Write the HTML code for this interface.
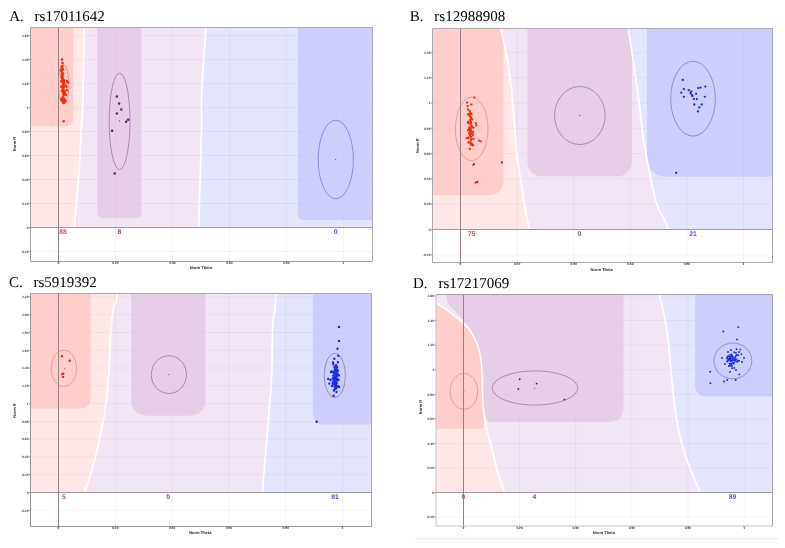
<!DOCTYPE html>
<html><head><meta charset="utf-8"><title>Cluster plots</title>
<style>
html,body{margin:0;padding:0;background:#fff;}
body{width:785px;height:548px;overflow:hidden;}
svg{display:block;}
text{text-rendering:geometricPrecision;}
.ttl{font-family:"Liberation Serif",serif;font-size:15px;fill:#000;}
.tk{font-family:"Liberation Sans",sans-serif;font-size:3.3px;fill:#333;font-weight:bold;}
.ax{font-family:"Liberation Sans",sans-serif;font-size:4.0px;fill:#222;font-weight:bold;}
.cnt{font-family:"Liberation Sans",sans-serif;font-size:6.8px;font-weight:bold;}
.wb{fill:none;stroke:#fff;stroke-width:1.7;stroke-opacity:0.95;}
.grid{fill:none;stroke:#000;stroke-opacity:0.035;stroke-width:0.8;}
.grid2{fill:none;stroke:#000;stroke-opacity:0.025;stroke-width:0.8;}
.zero{stroke:#a09898;stroke-width:1;}
.x0{stroke:#928083;stroke-width:1;}
.frame{fill:none;stroke:#929292;stroke-width:1.1;}
.tick{fill:none;stroke:#666;stroke-width:0.6;}
</style></head>
<body>
<svg width="785" height="548" viewBox="0 0 785 548">
<rect width="785" height="548" fill="#fff"/>
<text x="9.2" y="21.1" class="ttl">A.</text>
<text x="34.6" y="21.1" class="ttl">rs17011642</text>
<clipPath id="pkA"><polygon points="30.5,27.5 84.2,27.5 84.2,27.5 84.2,28.5 84.2,29.6 84.2,30.8 84.1,32.4 84.1,34.2 84.1,36.4 84.1,39.0 84.0,42.0 83.9,45.7 83.9,50.0 83.8,54.9 83.7,60.0 83.6,65.3 83.5,70.5 83.4,75.5 83.3,80.0 83.2,84.2 83.1,88.4 83.1,92.5 83.0,96.4 82.9,100.2 82.8,103.7 82.7,107.0 82.6,110.0 82.5,112.5 82.4,114.5 82.2,116.1 82.1,117.6 82.0,119.0 81.8,120.6 81.7,122.6 81.5,125.0 81.3,127.9 81.2,131.2 81.0,134.8 80.8,138.5 80.7,142.3 80.5,146.2 80.3,150.0 80.1,153.7 79.9,157.3 79.7,161.0 79.4,164.7 79.2,168.5 78.9,172.1 78.7,175.7 78.4,179.2 78.2,182.5 78.0,185.7 77.7,188.7 77.5,191.6 77.2,194.4 77.0,197.2 76.8,200.0 76.5,202.7 76.3,205.5 76.0,208.4 75.8,211.6 75.5,214.8 75.2,217.9 75.0,220.9 74.7,223.6 74.5,225.8 74.4,227.5 74.4,227.5 30.5,227.5"/></clipPath>
<clipPath id="puA"><polygon points="84.2,27.5 205.9,27.5 205.9,27.5 205.8,28.6 205.7,29.9 205.6,31.6 205.5,33.4 205.4,35.4 205.2,37.6 205.1,39.9 204.9,42.2 204.7,44.6 204.6,47.1 204.4,49.8 204.2,52.6 204.0,55.5 203.8,58.6 203.6,61.8 203.4,65.2 203.2,68.8 202.9,72.7 202.6,76.7 202.4,80.9 202.1,85.2 201.9,89.5 201.6,93.7 201.5,97.8 201.4,101.6 201.4,105.0 201.4,108.2 201.5,111.6 201.6,115.2 201.6,119.3 201.6,124.2 201.5,130.0 201.3,137.2 201.1,145.8 200.8,155.3 200.5,165.3 200.2,175.2 199.9,184.6 199.7,193.0 199.5,200.0 199.4,205.7 199.3,210.5 199.2,214.6 199.1,218.1 199.1,221.1 199.1,223.6 199.0,225.7 199.0,227.5 199.0,227.5 74.4,227.5 74.4,227.5 74.5,225.8 74.7,223.6 75.0,220.9 75.2,217.9 75.5,214.8 75.8,211.6 76.0,208.4 76.3,205.5 76.5,202.7 76.8,200.0 77.0,197.2 77.2,194.4 77.5,191.6 77.7,188.7 78.0,185.7 78.2,182.5 78.4,179.2 78.7,175.7 78.9,172.1 79.2,168.5 79.4,164.7 79.7,161.0 79.9,157.3 80.1,153.7 80.3,150.0 80.5,146.2 80.7,142.3 80.8,138.5 81.0,134.8 81.2,131.2 81.3,127.9 81.5,125.0 81.7,122.6 81.8,120.6 82.0,119.0 82.1,117.6 82.2,116.1 82.4,114.5 82.5,112.5 82.6,110.0 82.7,107.0 82.8,103.7 82.9,100.2 83.0,96.4 83.1,92.5 83.1,88.4 83.2,84.2 83.3,80.0 83.4,75.5 83.5,70.5 83.6,65.3 83.7,60.0 83.8,54.9 83.9,50.0 83.9,45.7 84.0,42.0 84.1,39.0 84.1,36.4 84.1,34.2 84.1,32.4 84.2,30.8 84.2,29.6 84.2,28.5 84.2,27.5"/></clipPath>
<clipPath id="blA"><polygon points="205.9,27.5 372.5,27.5 372.5,227.5 199.0,227.5 199.0,227.5 199.0,225.7 199.1,223.6 199.1,221.1 199.1,218.1 199.2,214.6 199.3,210.5 199.4,205.7 199.5,200.0 199.7,193.0 199.9,184.6 200.2,175.2 200.5,165.3 200.8,155.3 201.1,145.8 201.3,137.2 201.5,130.0 201.6,124.2 201.6,119.3 201.6,115.2 201.5,111.6 201.4,108.2 201.4,105.0 201.4,101.6 201.5,97.8 201.6,93.7 201.9,89.5 202.1,85.2 202.4,80.9 202.6,76.7 202.9,72.7 203.2,68.8 203.4,65.2 203.6,61.8 203.8,58.6 204.0,55.5 204.2,52.6 204.4,49.8 204.6,47.1 204.7,44.6 204.9,42.2 205.1,39.9 205.2,37.6 205.4,35.4 205.5,33.4 205.6,31.6 205.7,29.9 205.8,28.6 205.9,27.5"/></clipPath>
<polygon points="30.5,27.5 84.2,27.5 84.2,27.5 84.2,28.5 84.2,29.6 84.2,30.8 84.1,32.4 84.1,34.2 84.1,36.4 84.1,39.0 84.0,42.0 83.9,45.7 83.9,50.0 83.8,54.9 83.7,60.0 83.6,65.3 83.5,70.5 83.4,75.5 83.3,80.0 83.2,84.2 83.1,88.4 83.1,92.5 83.0,96.4 82.9,100.2 82.8,103.7 82.7,107.0 82.6,110.0 82.5,112.5 82.4,114.5 82.2,116.1 82.1,117.6 82.0,119.0 81.8,120.6 81.7,122.6 81.5,125.0 81.3,127.9 81.2,131.2 81.0,134.8 80.8,138.5 80.7,142.3 80.5,146.2 80.3,150.0 80.1,153.7 79.9,157.3 79.7,161.0 79.4,164.7 79.2,168.5 78.9,172.1 78.7,175.7 78.4,179.2 78.2,182.5 78.0,185.7 77.7,188.7 77.5,191.6 77.2,194.4 77.0,197.2 76.8,200.0 76.5,202.7 76.3,205.5 76.0,208.4 75.8,211.6 75.5,214.8 75.2,217.9 75.0,220.9 74.7,223.6 74.5,225.8 74.4,227.5 74.4,227.5 30.5,227.5" fill="#fee7e6"/>
<polygon points="84.2,27.5 205.9,27.5 205.9,27.5 205.8,28.6 205.7,29.9 205.6,31.6 205.5,33.4 205.4,35.4 205.2,37.6 205.1,39.9 204.9,42.2 204.7,44.6 204.6,47.1 204.4,49.8 204.2,52.6 204.0,55.5 203.8,58.6 203.6,61.8 203.4,65.2 203.2,68.8 202.9,72.7 202.6,76.7 202.4,80.9 202.1,85.2 201.9,89.5 201.6,93.7 201.5,97.8 201.4,101.6 201.4,105.0 201.4,108.2 201.5,111.6 201.6,115.2 201.6,119.3 201.6,124.2 201.5,130.0 201.3,137.2 201.1,145.8 200.8,155.3 200.5,165.3 200.2,175.2 199.9,184.6 199.7,193.0 199.5,200.0 199.4,205.7 199.3,210.5 199.2,214.6 199.1,218.1 199.1,221.1 199.1,223.6 199.0,225.7 199.0,227.5 199.0,227.5 74.4,227.5 74.4,227.5 74.5,225.8 74.7,223.6 75.0,220.9 75.2,217.9 75.5,214.8 75.8,211.6 76.0,208.4 76.3,205.5 76.5,202.7 76.8,200.0 77.0,197.2 77.2,194.4 77.5,191.6 77.7,188.7 78.0,185.7 78.2,182.5 78.4,179.2 78.7,175.7 78.9,172.1 79.2,168.5 79.4,164.7 79.7,161.0 79.9,157.3 80.1,153.7 80.3,150.0 80.5,146.2 80.7,142.3 80.8,138.5 81.0,134.8 81.2,131.2 81.3,127.9 81.5,125.0 81.7,122.6 81.8,120.6 82.0,119.0 82.1,117.6 82.2,116.1 82.4,114.5 82.5,112.5 82.6,110.0 82.7,107.0 82.8,103.7 82.9,100.2 83.0,96.4 83.1,92.5 83.1,88.4 83.2,84.2 83.3,80.0 83.4,75.5 83.5,70.5 83.6,65.3 83.7,60.0 83.8,54.9 83.9,50.0 83.9,45.7 84.0,42.0 84.1,39.0 84.1,36.4 84.1,34.2 84.1,32.4 84.2,30.8 84.2,29.6 84.2,28.5 84.2,27.5" fill="#f2e6f6"/>
<polygon points="205.9,27.5 372.5,27.5 372.5,227.5 199.0,227.5 199.0,227.5 199.0,225.7 199.1,223.6 199.1,221.1 199.1,218.1 199.2,214.6 199.3,210.5 199.4,205.7 199.5,200.0 199.7,193.0 199.9,184.6 200.2,175.2 200.5,165.3 200.8,155.3 201.1,145.8 201.3,137.2 201.5,130.0 201.6,124.2 201.6,119.3 201.6,115.2 201.5,111.6 201.4,108.2 201.4,105.0 201.4,101.6 201.5,97.8 201.6,93.7 201.9,89.5 202.1,85.2 202.4,80.9 202.6,76.7 202.9,72.7 203.2,68.8 203.4,65.2 203.6,61.8 203.8,58.6 204.0,55.5 204.2,52.6 204.4,49.8 204.6,47.1 204.7,44.6 204.9,42.2 205.1,39.9 205.2,37.6 205.4,35.4 205.5,33.4 205.6,31.6 205.7,29.9 205.8,28.6 205.9,27.5" fill="#e4e5fe"/>
<path d="M30.5 251.5H372.5M30.5 203.5H372.5M30.5 179.5H372.5M30.5 155.5H372.5M30.5 131.5H372.5M30.5 107.4H372.5M30.5 83.4H372.5M30.5 59.4H372.5M30.5 35.4H372.5M115.5 27.5V261.5M172.4 27.5V261.5M229.4 27.5V261.5M286.3 27.5V261.5M343.3 27.5V261.5" class="grid"/>
<g clip-path="url(#pkA)"><rect x="0" y="0" width="73.3" height="126.3" rx="7" fill="#ffcecb"/></g>
<g clip-path="url(#puA)"><rect x="97.2" y="0" width="44.3" height="218.3" rx="6" fill="#e6cfe6"/></g>
<g clip-path="url(#blA)"><rect x="297.9" y="0" width="102.1" height="220.2" rx="5" fill="#cecefd"/></g>
<path d="M30.5 251.5H372.5M30.5 203.5H372.5M30.5 179.5H372.5M30.5 155.5H372.5M30.5 131.5H372.5M30.5 107.4H372.5M30.5 83.4H372.5M30.5 59.4H372.5M30.5 35.4H372.5M115.5 27.5V261.5M172.4 27.5V261.5M229.4 27.5V261.5M286.3 27.5V261.5M343.3 27.5V261.5" class="grid2"/>
<polyline points="84.2,27.5 84.2,28.5 84.2,29.6 84.2,30.8 84.1,32.4 84.1,34.2 84.1,36.4 84.1,39.0 84.0,42.0 83.9,45.7 83.9,50.0 83.8,54.9 83.7,60.0 83.6,65.3 83.5,70.5 83.4,75.5 83.3,80.0 83.2,84.2 83.1,88.4 83.1,92.5 83.0,96.4 82.9,100.2 82.8,103.7 82.7,107.0 82.6,110.0 82.5,112.5 82.4,114.5 82.2,116.1 82.1,117.6 82.0,119.0 81.8,120.6 81.7,122.6 81.5,125.0 81.3,127.9 81.2,131.2 81.0,134.8 80.8,138.5 80.7,142.3 80.5,146.2 80.3,150.0 80.1,153.7 79.9,157.3 79.7,161.0 79.4,164.7 79.2,168.5 78.9,172.1 78.7,175.7 78.4,179.2 78.2,182.5 78.0,185.7 77.7,188.7 77.5,191.6 77.2,194.4 77.0,197.2 76.8,200.0 76.5,202.7 76.3,205.5 76.0,208.4 75.8,211.6 75.5,214.8 75.2,217.9 75.0,220.9 74.7,223.6 74.5,225.8 74.4,227.5" class="wb"/>
<polyline points="205.9,27.5 205.8,28.6 205.7,29.9 205.6,31.6 205.5,33.4 205.4,35.4 205.2,37.6 205.1,39.9 204.9,42.2 204.7,44.6 204.6,47.1 204.4,49.8 204.2,52.6 204.0,55.5 203.8,58.6 203.6,61.8 203.4,65.2 203.2,68.8 202.9,72.7 202.6,76.7 202.4,80.9 202.1,85.2 201.9,89.5 201.6,93.7 201.5,97.8 201.4,101.6 201.4,105.0 201.4,108.2 201.5,111.6 201.6,115.2 201.6,119.3 201.6,124.2 201.5,130.0 201.3,137.2 201.1,145.8 200.8,155.3 200.5,165.3 200.2,175.2 199.9,184.6 199.7,193.0 199.5,200.0 199.4,205.7 199.3,210.5 199.2,214.6 199.1,218.1 199.1,221.1 199.1,223.6 199.0,225.7 199.0,227.5" class="wb"/>
<path d="M30.5 227.5H372.5" class="zero"/>
<path d="M58.5 27.5V261.5" class="x0"/>
<path d="M30.5 27.5H372.5V261.5" fill="none" stroke="#adaab2" stroke-width="1"/>
<path d="M30.5 27.5V261.5H372.5" fill="none" stroke="#a0a0a0" stroke-width="1"/>
<text x="28.5" y="252.7" class="tk" text-anchor="end">-0.20</text>
<text x="28.5" y="228.7" class="tk" text-anchor="end">0</text>
<text x="28.5" y="204.7" class="tk" text-anchor="end">0.20</text>
<text x="28.5" y="180.7" class="tk" text-anchor="end">0.40</text>
<text x="28.5" y="156.7" class="tk" text-anchor="end">0.60</text>
<text x="28.5" y="132.7" class="tk" text-anchor="end">0.80</text>
<text x="28.5" y="108.6" class="tk" text-anchor="end">1</text>
<text x="28.5" y="84.6" class="tk" text-anchor="end">1.20</text>
<text x="28.5" y="60.6" class="tk" text-anchor="end">1.40</text>
<text x="28.5" y="36.6" class="tk" text-anchor="end">1.60</text>
<text x="58.5" y="264.4" class="tk" text-anchor="middle">0</text>
<text x="115.5" y="264.4" class="tk" text-anchor="middle">0.20</text>
<text x="172.4" y="264.4" class="tk" text-anchor="middle">0.40</text>
<text x="229.4" y="264.4" class="tk" text-anchor="middle">0.60</text>
<text x="286.3" y="264.4" class="tk" text-anchor="middle">0.80</text>
<text x="343.3" y="264.4" class="tk" text-anchor="middle">1</text>
<path d="M29.0 251.5H30.5M29.0 227.5H30.5M29.0 203.5H30.5M29.0 179.5H30.5M29.0 155.5H30.5M29.0 131.5H30.5M29.0 107.4H30.5M29.0 83.4H30.5M29.0 59.4H30.5M29.0 35.4H30.5M58.5 261.5V263.0M115.5 261.5V263.0M172.4 261.5V263.0M229.4 261.5V263.0M286.3 261.5V263.0M343.3 261.5V263.0" class="tick"/>
<text x="200.8" y="269.2" class="ax" text-anchor="middle">Norm Theta</text>
<text transform="translate(16.3,144) rotate(-90)" class="ax" text-anchor="middle">Norm R</text>
<ellipse cx="63.6" cy="84.4" rx="5.3" ry="19.8" fill="none" stroke="#d47c7c" stroke-width="0.6"/>
<ellipse cx="119.6" cy="121.3" rx="10.4" ry="48.2" fill="none" stroke="#904e92" stroke-width="0.6"/>
<ellipse cx="335.8" cy="159.5" rx="17.6" ry="39.3" fill="none" stroke="#5c5cd0" stroke-width="0.6"/>
<path d="M60.75 59.50a1.25 1.25 0 1 0 2.5 0a1.25 1.25 0 1 0 -2.5 0M61.25 63.00a1.25 1.25 0 1 0 2.5 0a1.25 1.25 0 1 0 -2.5 0M62.45 121.20a1.25 1.25 0 1 0 2.5 0a1.25 1.25 0 1 0 -2.5 0" fill="#d42032"/>
<path d="M60.36 74.75a1.25 1.25 0 1 0 2.5 0a1.25 1.25 0 1 0 -2.5 0M61.44 78.56a1.25 1.25 0 1 0 2.5 0a1.25 1.25 0 1 0 -2.5 0M61.36 76.86a1.25 1.25 0 1 0 2.5 0a1.25 1.25 0 1 0 -2.5 0M61.12 69.15a1.25 1.25 0 1 0 2.5 0a1.25 1.25 0 1 0 -2.5 0M59.49 70.20a1.25 1.25 0 1 0 2.5 0a1.25 1.25 0 1 0 -2.5 0M60.87 78.23a1.25 1.25 0 1 0 2.5 0a1.25 1.25 0 1 0 -2.5 0M61.22 66.07a1.25 1.25 0 1 0 2.5 0a1.25 1.25 0 1 0 -2.5 0M61.33 77.50a1.25 1.25 0 1 0 2.5 0a1.25 1.25 0 1 0 -2.5 0M60.18 77.16a1.25 1.25 0 1 0 2.5 0a1.25 1.25 0 1 0 -2.5 0M60.92 72.55a1.25 1.25 0 1 0 2.5 0a1.25 1.25 0 1 0 -2.5 0M60.57 70.24a1.25 1.25 0 1 0 2.5 0a1.25 1.25 0 1 0 -2.5 0M60.68 69.90a1.25 1.25 0 1 0 2.5 0a1.25 1.25 0 1 0 -2.5 0M61.99 69.57a1.25 1.25 0 1 0 2.5 0a1.25 1.25 0 1 0 -2.5 0M60.68 72.23a1.25 1.25 0 1 0 2.5 0a1.25 1.25 0 1 0 -2.5 0M61.23 73.06a1.25 1.25 0 1 0 2.5 0a1.25 1.25 0 1 0 -2.5 0M61.87 73.75a1.25 1.25 0 1 0 2.5 0a1.25 1.25 0 1 0 -2.5 0M60.84 79.94a1.25 1.25 0 1 0 2.5 0a1.25 1.25 0 1 0 -2.5 0M61.17 77.10a1.25 1.25 0 1 0 2.5 0a1.25 1.25 0 1 0 -2.5 0M61.33 74.71a1.25 1.25 0 1 0 2.5 0a1.25 1.25 0 1 0 -2.5 0M61.29 79.85a1.25 1.25 0 1 0 2.5 0a1.25 1.25 0 1 0 -2.5 0M60.39 69.01a1.25 1.25 0 1 0 2.5 0a1.25 1.25 0 1 0 -2.5 0M61.30 68.24a1.25 1.25 0 1 0 2.5 0a1.25 1.25 0 1 0 -2.5 0M62.14 95.80a1.25 1.25 0 1 0 2.5 0a1.25 1.25 0 1 0 -2.5 0M62.79 80.20a1.25 1.25 0 1 0 2.5 0a1.25 1.25 0 1 0 -2.5 0M60.73 90.99a1.25 1.25 0 1 0 2.5 0a1.25 1.25 0 1 0 -2.5 0M62.53 90.19a1.25 1.25 0 1 0 2.5 0a1.25 1.25 0 1 0 -2.5 0M60.29 98.91a1.25 1.25 0 1 0 2.5 0a1.25 1.25 0 1 0 -2.5 0M59.91 86.67a1.25 1.25 0 1 0 2.5 0a1.25 1.25 0 1 0 -2.5 0M61.82 92.36a1.25 1.25 0 1 0 2.5 0a1.25 1.25 0 1 0 -2.5 0M61.16 79.42a1.25 1.25 0 1 0 2.5 0a1.25 1.25 0 1 0 -2.5 0M62.33 87.30a1.25 1.25 0 1 0 2.5 0a1.25 1.25 0 1 0 -2.5 0M64.62 85.75a1.25 1.25 0 1 0 2.5 0a1.25 1.25 0 1 0 -2.5 0M61.24 81.60a1.25 1.25 0 1 0 2.5 0a1.25 1.25 0 1 0 -2.5 0M61.46 97.59a1.25 1.25 0 1 0 2.5 0a1.25 1.25 0 1 0 -2.5 0M62.38 87.11a1.25 1.25 0 1 0 2.5 0a1.25 1.25 0 1 0 -2.5 0M62.69 101.49a1.25 1.25 0 1 0 2.5 0a1.25 1.25 0 1 0 -2.5 0M61.96 92.16a1.25 1.25 0 1 0 2.5 0a1.25 1.25 0 1 0 -2.5 0M61.92 92.52a1.25 1.25 0 1 0 2.5 0a1.25 1.25 0 1 0 -2.5 0M62.92 93.31a1.25 1.25 0 1 0 2.5 0a1.25 1.25 0 1 0 -2.5 0M62.72 94.23a1.25 1.25 0 1 0 2.5 0a1.25 1.25 0 1 0 -2.5 0M61.01 81.62a1.25 1.25 0 1 0 2.5 0a1.25 1.25 0 1 0 -2.5 0M62.06 88.57a1.25 1.25 0 1 0 2.5 0a1.25 1.25 0 1 0 -2.5 0M62.19 83.75a1.25 1.25 0 1 0 2.5 0a1.25 1.25 0 1 0 -2.5 0M60.99 87.66a1.25 1.25 0 1 0 2.5 0a1.25 1.25 0 1 0 -2.5 0M62.44 80.32a1.25 1.25 0 1 0 2.5 0a1.25 1.25 0 1 0 -2.5 0M61.21 101.23a1.25 1.25 0 1 0 2.5 0a1.25 1.25 0 1 0 -2.5 0M63.22 83.16a1.25 1.25 0 1 0 2.5 0a1.25 1.25 0 1 0 -2.5 0M62.36 94.12a1.25 1.25 0 1 0 2.5 0a1.25 1.25 0 1 0 -2.5 0M62.25 85.21a1.25 1.25 0 1 0 2.5 0a1.25 1.25 0 1 0 -2.5 0M61.50 98.98a1.25 1.25 0 1 0 2.5 0a1.25 1.25 0 1 0 -2.5 0M62.02 93.89a1.25 1.25 0 1 0 2.5 0a1.25 1.25 0 1 0 -2.5 0M59.95 81.16a1.25 1.25 0 1 0 2.5 0a1.25 1.25 0 1 0 -2.5 0M60.91 98.28a1.25 1.25 0 1 0 2.5 0a1.25 1.25 0 1 0 -2.5 0M62.55 100.68a1.25 1.25 0 1 0 2.5 0a1.25 1.25 0 1 0 -2.5 0M59.81 99.69a1.25 1.25 0 1 0 2.5 0a1.25 1.25 0 1 0 -2.5 0M63.08 91.67a1.25 1.25 0 1 0 2.5 0a1.25 1.25 0 1 0 -2.5 0M60.23 81.49a1.25 1.25 0 1 0 2.5 0a1.25 1.25 0 1 0 -2.5 0M62.98 82.62a1.25 1.25 0 1 0 2.5 0a1.25 1.25 0 1 0 -2.5 0M61.22 100.27a1.25 1.25 0 1 0 2.5 0a1.25 1.25 0 1 0 -2.5 0M63.01 91.26a1.25 1.25 0 1 0 2.5 0a1.25 1.25 0 1 0 -2.5 0M62.29 82.33a1.25 1.25 0 1 0 2.5 0a1.25 1.25 0 1 0 -2.5 0M60.46 99.22a1.25 1.25 0 1 0 2.5 0a1.25 1.25 0 1 0 -2.5 0M63.52 93.40a1.25 1.25 0 1 0 2.5 0a1.25 1.25 0 1 0 -2.5 0M63.74 91.67a1.25 1.25 0 1 0 2.5 0a1.25 1.25 0 1 0 -2.5 0M62.08 87.03a1.25 1.25 0 1 0 2.5 0a1.25 1.25 0 1 0 -2.5 0M61.85 87.86a1.25 1.25 0 1 0 2.5 0a1.25 1.25 0 1 0 -2.5 0M61.97 83.75a1.25 1.25 0 1 0 2.5 0a1.25 1.25 0 1 0 -2.5 0M61.08 78.91a1.25 1.25 0 1 0 2.5 0a1.25 1.25 0 1 0 -2.5 0M63.36 99.03a1.25 1.25 0 1 0 2.5 0a1.25 1.25 0 1 0 -2.5 0M61.55 89.23a1.25 1.25 0 1 0 2.5 0a1.25 1.25 0 1 0 -2.5 0M62.09 91.14a1.25 1.25 0 1 0 2.5 0a1.25 1.25 0 1 0 -2.5 0M61.28 85.73a1.25 1.25 0 1 0 2.5 0a1.25 1.25 0 1 0 -2.5 0M60.25 66.50a1.25 1.25 0 1 0 2.5 0a1.25 1.25 0 1 0 -2.5 0M60.75 68.50a1.25 1.25 0 1 0 2.5 0a1.25 1.25 0 1 0 -2.5 0M65.75 81.00a1.25 1.25 0 1 0 2.5 0a1.25 1.25 0 1 0 -2.5 0M66.75 82.50a1.25 1.25 0 1 0 2.5 0a1.25 1.25 0 1 0 -2.5 0M65.25 87.00a1.25 1.25 0 1 0 2.5 0a1.25 1.25 0 1 0 -2.5 0M65.55 90.00a1.25 1.25 0 1 0 2.5 0a1.25 1.25 0 1 0 -2.5 0M64.75 95.00a1.25 1.25 0 1 0 2.5 0a1.25 1.25 0 1 0 -2.5 0M61.25 101.50a1.25 1.25 0 1 0 2.5 0a1.25 1.25 0 1 0 -2.5 0M63.25 102.50a1.25 1.25 0 1 0 2.5 0a1.25 1.25 0 1 0 -2.5 0M62.25 103.00a1.25 1.25 0 1 0 2.5 0a1.25 1.25 0 1 0 -2.5 0M64.25 101.00a1.25 1.25 0 1 0 2.5 0a1.25 1.25 0 1 0 -2.5 0" fill="#f2300e"/>
<path d="M113.45 173.40a1.25 1.25 0 1 0 2.5 0a1.25 1.25 0 1 0 -2.5 0" fill="#5e1a5e"/>
<path d="M115.65 96.60a1.25 1.25 0 1 0 2.5 0a1.25 1.25 0 1 0 -2.5 0M117.85 103.40a1.25 1.25 0 1 0 2.5 0a1.25 1.25 0 1 0 -2.5 0M120.05 109.50a1.25 1.25 0 1 0 2.5 0a1.25 1.25 0 1 0 -2.5 0M115.65 113.60a1.25 1.25 0 1 0 2.5 0a1.25 1.25 0 1 0 -2.5 0M124.85 121.70a1.25 1.25 0 1 0 2.5 0a1.25 1.25 0 1 0 -2.5 0M126.85 119.80a1.25 1.25 0 1 0 2.5 0a1.25 1.25 0 1 0 -2.5 0M110.85 130.70a1.25 1.25 0 1 0 2.5 0a1.25 1.25 0 1 0 -2.5 0" fill="#621c62"/>
<circle cx="119.5" cy="120.9" r="0.55" fill="#7a3a7a"/>
<circle cx="335.6" cy="159.5" r="0.55" fill="#4a4ac0"/>
<text x="63" y="234.2" class="cnt" fill="#dc5460" text-anchor="middle">88</text>
<text x="119.4" y="234.2" class="cnt" fill="#8c4a8c" text-anchor="middle">8</text>
<text x="335.6" y="234.2" class="cnt" fill="#5252cc" text-anchor="middle">0</text>
<text x="409.8" y="21.2" class="ttl">B.</text>
<text x="434.3" y="21.2" class="ttl">rs12988908</text>
<clipPath id="pkB"><polygon points="432.5,28.5 500.8,28.5 500.8,28.5 501.1,29.7 501.4,31.2 501.8,33.1 502.3,35.2 502.8,37.4 503.3,39.7 503.8,42.0 504.3,44.2 504.8,46.4 505.2,48.7 505.7,51.1 506.2,53.5 506.7,56.0 507.1,58.4 507.6,60.9 508.0,63.3 508.4,65.7 508.7,68.1 509.1,70.5 509.4,72.9 509.7,75.3 510.0,77.7 510.3,80.1 510.6,82.5 510.9,84.9 511.2,87.3 511.4,89.7 511.7,92.1 511.9,94.4 512.1,96.8 512.4,99.2 512.6,101.6 512.8,104.0 513.0,106.3 513.2,108.6 513.4,110.9 513.6,113.3 513.8,115.7 514.0,118.2 514.2,120.8 514.4,123.6 514.7,126.5 514.9,129.5 515.1,132.6 515.4,135.7 515.6,138.8 515.9,141.7 516.1,144.5 516.3,147.1 516.5,149.7 516.7,152.1 517.0,154.5 517.2,156.9 517.4,159.2 517.7,161.6 518.0,164.0 518.4,166.4 518.8,168.9 519.2,171.3 519.6,173.8 520.1,176.3 520.5,178.7 521.0,181.2 521.4,183.6 521.8,186.0 522.1,188.4 522.5,190.7 522.8,193.1 523.1,195.5 523.5,197.9 523.9,200.5 524.3,203.1 524.8,206.0 525.4,209.2 526.0,212.5 526.6,215.9 527.2,219.1 527.8,222.1 528.2,224.6 528.6,226.6 528.9,228.0 529.0,228.8 529.1,229.3 529.2,229.4 529.2,229.4 529.2,229.3 529.2,229.2 529.2,229.3 529.2,229.5 432.5,229.5"/></clipPath>
<clipPath id="puB"><polygon points="500.8,28.5 628.3,28.5 628.3,28.5 628.7,31.1 629.3,34.6 629.9,38.7 630.6,43.3 631.4,48.2 632.2,53.2 632.9,58.1 633.6,62.8 634.3,67.4 634.9,72.0 635.6,76.7 636.3,81.5 637.0,86.3 637.6,91.1 638.3,95.9 638.9,100.6 639.5,105.3 640.0,110.0 640.5,114.7 641.1,119.4 641.6,124.2 642.1,128.9 642.7,133.6 643.4,138.3 644.1,143.1 644.9,148.0 645.8,152.9 646.7,157.9 647.6,162.7 648.5,167.4 649.4,171.9 650.2,176.1 651.0,180.1 651.8,183.9 652.6,187.6 653.4,191.0 654.1,194.3 654.9,197.4 655.7,200.3 656.5,203.0 657.3,205.4 658.1,207.4 658.9,209.3 659.8,210.9 660.6,212.4 661.4,213.9 662.2,215.4 663.0,217.0 663.8,218.7 664.7,220.5 665.6,222.3 666.4,224.0 667.2,225.7 667.9,227.1 668.5,228.4 669.0,229.3 669.0,229.5 529.2,229.5 529.2,229.3 529.2,229.2 529.2,229.3 529.2,229.4 529.2,229.4 529.1,229.3 529.0,228.8 528.9,228.0 528.6,226.6 528.2,224.6 527.8,222.1 527.2,219.1 526.6,215.9 526.0,212.5 525.4,209.2 524.8,206.0 524.3,203.1 523.9,200.5 523.5,197.9 523.1,195.5 522.8,193.1 522.5,190.7 522.1,188.4 521.8,186.0 521.4,183.6 521.0,181.2 520.5,178.7 520.1,176.3 519.6,173.8 519.2,171.3 518.8,168.9 518.4,166.4 518.0,164.0 517.7,161.6 517.4,159.2 517.2,156.9 517.0,154.5 516.7,152.1 516.5,149.7 516.3,147.1 516.1,144.5 515.9,141.7 515.6,138.8 515.4,135.7 515.1,132.6 514.9,129.5 514.7,126.5 514.4,123.6 514.2,120.8 514.0,118.2 513.8,115.7 513.6,113.3 513.4,110.9 513.2,108.6 513.0,106.3 512.8,104.0 512.6,101.6 512.4,99.2 512.1,96.8 511.9,94.4 511.7,92.1 511.4,89.7 511.2,87.3 510.9,84.9 510.6,82.5 510.3,80.1 510.0,77.7 509.7,75.3 509.4,72.9 509.1,70.5 508.7,68.1 508.4,65.7 508.0,63.3 507.6,60.9 507.1,58.4 506.7,56.0 506.2,53.5 505.7,51.1 505.2,48.7 504.8,46.4 504.3,44.2 503.8,42.0 503.3,39.7 502.8,37.4 502.3,35.2 501.8,33.1 501.4,31.2 501.1,29.7 500.8,28.5"/></clipPath>
<clipPath id="blB"><polygon points="628.3,28.5 772.5,28.5 772.5,229.5 669.0,229.5 669.0,229.3 668.5,228.4 667.9,227.1 667.2,225.7 666.4,224.0 665.6,222.3 664.7,220.5 663.8,218.7 663.0,217.0 662.2,215.4 661.4,213.9 660.6,212.4 659.8,210.9 658.9,209.3 658.1,207.4 657.3,205.4 656.5,203.0 655.7,200.3 654.9,197.4 654.1,194.3 653.4,191.0 652.6,187.6 651.8,183.9 651.0,180.1 650.2,176.1 649.4,171.9 648.5,167.4 647.6,162.7 646.7,157.9 645.8,152.9 644.9,148.0 644.1,143.1 643.4,138.3 642.7,133.6 642.1,128.9 641.6,124.2 641.1,119.4 640.5,114.7 640.0,110.0 639.5,105.3 638.9,100.6 638.3,95.9 637.6,91.1 637.0,86.3 636.3,81.5 635.6,76.7 634.9,72.0 634.3,67.4 633.6,62.8 632.9,58.1 632.2,53.2 631.4,48.2 630.6,43.3 629.9,38.7 629.3,34.6 628.7,31.1 628.3,28.5"/></clipPath>
<polygon points="432.5,28.5 500.8,28.5 500.8,28.5 501.1,29.7 501.4,31.2 501.8,33.1 502.3,35.2 502.8,37.4 503.3,39.7 503.8,42.0 504.3,44.2 504.8,46.4 505.2,48.7 505.7,51.1 506.2,53.5 506.7,56.0 507.1,58.4 507.6,60.9 508.0,63.3 508.4,65.7 508.7,68.1 509.1,70.5 509.4,72.9 509.7,75.3 510.0,77.7 510.3,80.1 510.6,82.5 510.9,84.9 511.2,87.3 511.4,89.7 511.7,92.1 511.9,94.4 512.1,96.8 512.4,99.2 512.6,101.6 512.8,104.0 513.0,106.3 513.2,108.6 513.4,110.9 513.6,113.3 513.8,115.7 514.0,118.2 514.2,120.8 514.4,123.6 514.7,126.5 514.9,129.5 515.1,132.6 515.4,135.7 515.6,138.8 515.9,141.7 516.1,144.5 516.3,147.1 516.5,149.7 516.7,152.1 517.0,154.5 517.2,156.9 517.4,159.2 517.7,161.6 518.0,164.0 518.4,166.4 518.8,168.9 519.2,171.3 519.6,173.8 520.1,176.3 520.5,178.7 521.0,181.2 521.4,183.6 521.8,186.0 522.1,188.4 522.5,190.7 522.8,193.1 523.1,195.5 523.5,197.9 523.9,200.5 524.3,203.1 524.8,206.0 525.4,209.2 526.0,212.5 526.6,215.9 527.2,219.1 527.8,222.1 528.2,224.6 528.6,226.6 528.9,228.0 529.0,228.8 529.1,229.3 529.2,229.4 529.2,229.4 529.2,229.3 529.2,229.2 529.2,229.3 529.2,229.5 432.5,229.5" fill="#fee7e6"/>
<polygon points="500.8,28.5 628.3,28.5 628.3,28.5 628.7,31.1 629.3,34.6 629.9,38.7 630.6,43.3 631.4,48.2 632.2,53.2 632.9,58.1 633.6,62.8 634.3,67.4 634.9,72.0 635.6,76.7 636.3,81.5 637.0,86.3 637.6,91.1 638.3,95.9 638.9,100.6 639.5,105.3 640.0,110.0 640.5,114.7 641.1,119.4 641.6,124.2 642.1,128.9 642.7,133.6 643.4,138.3 644.1,143.1 644.9,148.0 645.8,152.9 646.7,157.9 647.6,162.7 648.5,167.4 649.4,171.9 650.2,176.1 651.0,180.1 651.8,183.9 652.6,187.6 653.4,191.0 654.1,194.3 654.9,197.4 655.7,200.3 656.5,203.0 657.3,205.4 658.1,207.4 658.9,209.3 659.8,210.9 660.6,212.4 661.4,213.9 662.2,215.4 663.0,217.0 663.8,218.7 664.7,220.5 665.6,222.3 666.4,224.0 667.2,225.7 667.9,227.1 668.5,228.4 669.0,229.3 669.0,229.5 529.2,229.5 529.2,229.3 529.2,229.2 529.2,229.3 529.2,229.4 529.2,229.4 529.1,229.3 529.0,228.8 528.9,228.0 528.6,226.6 528.2,224.6 527.8,222.1 527.2,219.1 526.6,215.9 526.0,212.5 525.4,209.2 524.8,206.0 524.3,203.1 523.9,200.5 523.5,197.9 523.1,195.5 522.8,193.1 522.5,190.7 522.1,188.4 521.8,186.0 521.4,183.6 521.0,181.2 520.5,178.7 520.1,176.3 519.6,173.8 519.2,171.3 518.8,168.9 518.4,166.4 518.0,164.0 517.7,161.6 517.4,159.2 517.2,156.9 517.0,154.5 516.7,152.1 516.5,149.7 516.3,147.1 516.1,144.5 515.9,141.7 515.6,138.8 515.4,135.7 515.1,132.6 514.9,129.5 514.7,126.5 514.4,123.6 514.2,120.8 514.0,118.2 513.8,115.7 513.6,113.3 513.4,110.9 513.2,108.6 513.0,106.3 512.8,104.0 512.6,101.6 512.4,99.2 512.1,96.8 511.9,94.4 511.7,92.1 511.4,89.7 511.2,87.3 510.9,84.9 510.6,82.5 510.3,80.1 510.0,77.7 509.7,75.3 509.4,72.9 509.1,70.5 508.7,68.1 508.4,65.7 508.0,63.3 507.6,60.9 507.1,58.4 506.7,56.0 506.2,53.5 505.7,51.1 505.2,48.7 504.8,46.4 504.3,44.2 503.8,42.0 503.3,39.7 502.8,37.4 502.3,35.2 501.8,33.1 501.4,31.2 501.1,29.7 500.8,28.5" fill="#f2e6f6"/>
<polygon points="628.3,28.5 772.5,28.5 772.5,229.5 669.0,229.5 669.0,229.3 668.5,228.4 667.9,227.1 667.2,225.7 666.4,224.0 665.6,222.3 664.7,220.5 663.8,218.7 663.0,217.0 662.2,215.4 661.4,213.9 660.6,212.4 659.8,210.9 658.9,209.3 658.1,207.4 657.3,205.4 656.5,203.0 655.7,200.3 654.9,197.4 654.1,194.3 653.4,191.0 652.6,187.6 651.8,183.9 651.0,180.1 650.2,176.1 649.4,171.9 648.5,167.4 647.6,162.7 646.7,157.9 645.8,152.9 644.9,148.0 644.1,143.1 643.4,138.3 642.7,133.6 642.1,128.9 641.6,124.2 641.1,119.4 640.5,114.7 640.0,110.0 639.5,105.3 638.9,100.6 638.3,95.9 637.6,91.1 637.0,86.3 636.3,81.5 635.6,76.7 634.9,72.0 634.3,67.4 633.6,62.8 632.9,58.1 632.2,53.2 631.4,48.2 630.6,43.3 629.9,38.7 629.3,34.6 628.7,31.1 628.3,28.5" fill="#e4e5fe"/>
<path d="M432.5 254.8H772.5M432.5 204.2H772.5M432.5 178.9H772.5M432.5 153.6H772.5M432.5 128.3H772.5M432.5 103.0H772.5M432.5 77.7H772.5M432.5 52.4H772.5M517.1 28.5V262.5M573.7 28.5V262.5M630.3 28.5V262.5M686.9 28.5V262.5M743.5 28.5V262.5" class="grid"/>
<g clip-path="url(#pkB)"><rect x="400" y="0" width="103.4" height="195.3" rx="14" fill="#ffcecb"/></g>
<g clip-path="url(#puB)"><rect x="527.4" y="0" width="104.4" height="176.3" rx="14" fill="#e6cfe6"/></g>
<g clip-path="url(#blB)"><rect x="647" y="0" width="153.0" height="176.7" rx="19" fill="#cecefd"/></g>
<path d="M432.5 254.8H772.5M432.5 204.2H772.5M432.5 178.9H772.5M432.5 153.6H772.5M432.5 128.3H772.5M432.5 103.0H772.5M432.5 77.7H772.5M432.5 52.4H772.5M517.1 28.5V262.5M573.7 28.5V262.5M630.3 28.5V262.5M686.9 28.5V262.5M743.5 28.5V262.5" class="grid2"/>
<polyline points="500.8,28.5 501.1,29.7 501.4,31.2 501.8,33.1 502.3,35.2 502.8,37.4 503.3,39.7 503.8,42.0 504.3,44.2 504.8,46.4 505.2,48.7 505.7,51.1 506.2,53.5 506.7,56.0 507.1,58.4 507.6,60.9 508.0,63.3 508.4,65.7 508.7,68.1 509.1,70.5 509.4,72.9 509.7,75.3 510.0,77.7 510.3,80.1 510.6,82.5 510.9,84.9 511.2,87.3 511.4,89.7 511.7,92.1 511.9,94.4 512.1,96.8 512.4,99.2 512.6,101.6 512.8,104.0 513.0,106.3 513.2,108.6 513.4,110.9 513.6,113.3 513.8,115.7 514.0,118.2 514.2,120.8 514.4,123.6 514.7,126.5 514.9,129.5 515.1,132.6 515.4,135.7 515.6,138.8 515.9,141.7 516.1,144.5 516.3,147.1 516.5,149.7 516.7,152.1 517.0,154.5 517.2,156.9 517.4,159.2 517.7,161.6 518.0,164.0 518.4,166.4 518.8,168.9 519.2,171.3 519.6,173.8 520.1,176.3 520.5,178.7 521.0,181.2 521.4,183.6 521.8,186.0 522.1,188.4 522.5,190.7 522.8,193.1 523.1,195.5 523.5,197.9 523.9,200.5 524.3,203.1 524.8,206.0 525.4,209.2 526.0,212.5 526.6,215.9 527.2,219.1 527.8,222.1 528.2,224.6 528.6,226.6 528.9,228.0 529.0,228.8 529.1,229.3 529.2,229.4 529.2,229.4 529.2,229.3 529.2,229.2 529.2,229.3" class="wb"/>
<polyline points="628.3,28.5 628.7,31.1 629.3,34.6 629.9,38.7 630.6,43.3 631.4,48.2 632.2,53.2 632.9,58.1 633.6,62.8 634.3,67.4 634.9,72.0 635.6,76.7 636.3,81.5 637.0,86.3 637.6,91.1 638.3,95.9 638.9,100.6 639.5,105.3 640.0,110.0 640.5,114.7 641.1,119.4 641.6,124.2 642.1,128.9 642.7,133.6 643.4,138.3 644.1,143.1 644.9,148.0 645.8,152.9 646.7,157.9 647.6,162.7 648.5,167.4 649.4,171.9 650.2,176.1 651.0,180.1 651.8,183.9 652.6,187.6 653.4,191.0 654.1,194.3 654.9,197.4 655.7,200.3 656.5,203.0 657.3,205.4 658.1,207.4 658.9,209.3 659.8,210.9 660.6,212.4 661.4,213.9 662.2,215.4 663.0,217.0 663.8,218.7 664.7,220.5 665.6,222.3 666.4,224.0 667.2,225.7 667.9,227.1 668.5,228.4 669.0,229.3" class="wb"/>
<path d="M432.5 229.5H772.5" class="zero"/>
<path d="M460.5 28.5V262.5" class="x0"/>
<path d="M432.5 28.5H772.5V262.5" fill="none" stroke="#a8a8b0" stroke-width="1"/>
<path d="M432.5 28.5V262.5H772.5" fill="none" stroke="#aaa" stroke-width="1"/>
<text x="430.5" y="256.0" class="tk" text-anchor="end">-0.20</text>
<text x="430.5" y="230.7" class="tk" text-anchor="end">0</text>
<text x="430.5" y="205.4" class="tk" text-anchor="end">0.20</text>
<text x="430.5" y="180.1" class="tk" text-anchor="end">0.40</text>
<text x="430.5" y="154.8" class="tk" text-anchor="end">0.60</text>
<text x="430.5" y="129.5" class="tk" text-anchor="end">0.80</text>
<text x="430.5" y="104.2" class="tk" text-anchor="end">1</text>
<text x="430.5" y="78.9" class="tk" text-anchor="end">1.20</text>
<text x="430.5" y="53.6" class="tk" text-anchor="end">1.40</text>
<text x="460.5" y="265.4" class="tk" text-anchor="middle">0</text>
<text x="517.1" y="265.4" class="tk" text-anchor="middle">0.20</text>
<text x="573.7" y="265.4" class="tk" text-anchor="middle">0.40</text>
<text x="630.3" y="265.4" class="tk" text-anchor="middle">0.60</text>
<text x="686.9" y="265.4" class="tk" text-anchor="middle">0.80</text>
<text x="743.5" y="265.4" class="tk" text-anchor="middle">1</text>
<path d="M431.0 254.8H432.5M431.0 229.5H432.5M431.0 204.2H432.5M431.0 178.9H432.5M431.0 153.6H432.5M431.0 128.3H432.5M431.0 103.0H432.5M431.0 77.7H432.5M431.0 52.4H432.5M460.5 262.5V264.0M517.1 262.5V264.0M573.7 262.5V264.0M630.3 262.5V264.0M686.9 262.5V264.0M743.5 262.5V264.0" class="tick"/>
<text x="601.7" y="270.6" class="ax" text-anchor="middle">Norm Theta</text>
<text transform="translate(418.8,145.7) rotate(-90)" class="ax" text-anchor="middle">Norm R</text>
<ellipse cx="471.7" cy="128.9" rx="16.3" ry="31.8" fill="none" stroke="#d47c7c" stroke-width="0.6"/>
<ellipse cx="579.85" cy="115.5" rx="25.3" ry="29.0" fill="none" stroke="#904e92" stroke-width="0.6"/>
<ellipse cx="693" cy="98.7" rx="22.3" ry="37.4" fill="none" stroke="#5c5cd0" stroke-width="0.6"/>
<path d="M500.75 162.50a1.15 1.15 0 1 0 2.3 0a1.15 1.15 0 1 0 -2.3 0" fill="#b81a38"/>
<path d="M472.15 164.80a1.15 1.15 0 1 0 2.3 0a1.15 1.15 0 1 0 -2.3 0M472.85 164.10a1.15 1.15 0 1 0 2.3 0a1.15 1.15 0 1 0 -2.3 0M474.45 182.60a1.15 1.15 0 1 0 2.3 0a1.15 1.15 0 1 0 -2.3 0M476.25 182.00a1.15 1.15 0 1 0 2.3 0a1.15 1.15 0 1 0 -2.3 0" fill="#d42032"/>
<path d="M471.02 134.15a1.15 1.15 0 1 0 2.3 0a1.15 1.15 0 1 0 -2.3 0M468.08 113.65a1.15 1.15 0 1 0 2.3 0a1.15 1.15 0 1 0 -2.3 0M468.98 122.32a1.15 1.15 0 1 0 2.3 0a1.15 1.15 0 1 0 -2.3 0M469.40 124.47a1.15 1.15 0 1 0 2.3 0a1.15 1.15 0 1 0 -2.3 0M471.84 134.82a1.15 1.15 0 1 0 2.3 0a1.15 1.15 0 1 0 -2.3 0M469.80 118.02a1.15 1.15 0 1 0 2.3 0a1.15 1.15 0 1 0 -2.3 0M470.45 131.34a1.15 1.15 0 1 0 2.3 0a1.15 1.15 0 1 0 -2.3 0M468.88 128.24a1.15 1.15 0 1 0 2.3 0a1.15 1.15 0 1 0 -2.3 0M467.81 129.21a1.15 1.15 0 1 0 2.3 0a1.15 1.15 0 1 0 -2.3 0M470.91 127.11a1.15 1.15 0 1 0 2.3 0a1.15 1.15 0 1 0 -2.3 0M471.59 135.32a1.15 1.15 0 1 0 2.3 0a1.15 1.15 0 1 0 -2.3 0M468.81 119.98a1.15 1.15 0 1 0 2.3 0a1.15 1.15 0 1 0 -2.3 0M469.89 121.56a1.15 1.15 0 1 0 2.3 0a1.15 1.15 0 1 0 -2.3 0M469.85 116.87a1.15 1.15 0 1 0 2.3 0a1.15 1.15 0 1 0 -2.3 0M469.63 113.22a1.15 1.15 0 1 0 2.3 0a1.15 1.15 0 1 0 -2.3 0M470.07 117.11a1.15 1.15 0 1 0 2.3 0a1.15 1.15 0 1 0 -2.3 0M469.49 133.97a1.15 1.15 0 1 0 2.3 0a1.15 1.15 0 1 0 -2.3 0M472.10 132.16a1.15 1.15 0 1 0 2.3 0a1.15 1.15 0 1 0 -2.3 0M466.84 114.70a1.15 1.15 0 1 0 2.3 0a1.15 1.15 0 1 0 -2.3 0M470.74 126.49a1.15 1.15 0 1 0 2.3 0a1.15 1.15 0 1 0 -2.3 0M469.98 123.50a1.15 1.15 0 1 0 2.3 0a1.15 1.15 0 1 0 -2.3 0M470.73 126.27a1.15 1.15 0 1 0 2.3 0a1.15 1.15 0 1 0 -2.3 0M472.27 127.82a1.15 1.15 0 1 0 2.3 0a1.15 1.15 0 1 0 -2.3 0M471.04 119.36a1.15 1.15 0 1 0 2.3 0a1.15 1.15 0 1 0 -2.3 0M468.61 135.07a1.15 1.15 0 1 0 2.3 0a1.15 1.15 0 1 0 -2.3 0M466.90 123.18a1.15 1.15 0 1 0 2.3 0a1.15 1.15 0 1 0 -2.3 0M470.72 127.07a1.15 1.15 0 1 0 2.3 0a1.15 1.15 0 1 0 -2.3 0M468.17 127.25a1.15 1.15 0 1 0 2.3 0a1.15 1.15 0 1 0 -2.3 0M468.71 116.41a1.15 1.15 0 1 0 2.3 0a1.15 1.15 0 1 0 -2.3 0M469.66 113.48a1.15 1.15 0 1 0 2.3 0a1.15 1.15 0 1 0 -2.3 0M466.86 121.88a1.15 1.15 0 1 0 2.3 0a1.15 1.15 0 1 0 -2.3 0M466.88 130.34a1.15 1.15 0 1 0 2.3 0a1.15 1.15 0 1 0 -2.3 0M470.30 131.57a1.15 1.15 0 1 0 2.3 0a1.15 1.15 0 1 0 -2.3 0M469.83 129.52a1.15 1.15 0 1 0 2.3 0a1.15 1.15 0 1 0 -2.3 0M468.24 114.72a1.15 1.15 0 1 0 2.3 0a1.15 1.15 0 1 0 -2.3 0M470.18 133.92a1.15 1.15 0 1 0 2.3 0a1.15 1.15 0 1 0 -2.3 0M468.71 131.25a1.15 1.15 0 1 0 2.3 0a1.15 1.15 0 1 0 -2.3 0M467.94 133.06a1.15 1.15 0 1 0 2.3 0a1.15 1.15 0 1 0 -2.3 0M469.14 124.56a1.15 1.15 0 1 0 2.3 0a1.15 1.15 0 1 0 -2.3 0M468.77 133.98a1.15 1.15 0 1 0 2.3 0a1.15 1.15 0 1 0 -2.3 0M470.03 136.96a1.15 1.15 0 1 0 2.3 0a1.15 1.15 0 1 0 -2.3 0M468.02 142.61a1.15 1.15 0 1 0 2.3 0a1.15 1.15 0 1 0 -2.3 0M469.41 142.32a1.15 1.15 0 1 0 2.3 0a1.15 1.15 0 1 0 -2.3 0M471.09 144.24a1.15 1.15 0 1 0 2.3 0a1.15 1.15 0 1 0 -2.3 0M469.93 144.04a1.15 1.15 0 1 0 2.3 0a1.15 1.15 0 1 0 -2.3 0M470.16 139.27a1.15 1.15 0 1 0 2.3 0a1.15 1.15 0 1 0 -2.3 0M469.64 143.22a1.15 1.15 0 1 0 2.3 0a1.15 1.15 0 1 0 -2.3 0M471.67 144.67a1.15 1.15 0 1 0 2.3 0a1.15 1.15 0 1 0 -2.3 0M470.02 144.93a1.15 1.15 0 1 0 2.3 0a1.15 1.15 0 1 0 -2.3 0M466.97 137.62a1.15 1.15 0 1 0 2.3 0a1.15 1.15 0 1 0 -2.3 0M469.08 136.27a1.15 1.15 0 1 0 2.3 0a1.15 1.15 0 1 0 -2.3 0M467.29 142.51a1.15 1.15 0 1 0 2.3 0a1.15 1.15 0 1 0 -2.3 0M465.50 138.15a1.15 1.15 0 1 0 2.3 0a1.15 1.15 0 1 0 -2.3 0M469.31 141.64a1.15 1.15 0 1 0 2.3 0a1.15 1.15 0 1 0 -2.3 0M471.92 145.45a1.15 1.15 0 1 0 2.3 0a1.15 1.15 0 1 0 -2.3 0M470.12 139.79a1.15 1.15 0 1 0 2.3 0a1.15 1.15 0 1 0 -2.3 0M465.85 102.60a1.15 1.15 0 1 0 2.3 0a1.15 1.15 0 1 0 -2.3 0M470.25 104.60a1.15 1.15 0 1 0 2.3 0a1.15 1.15 0 1 0 -2.3 0M466.45 106.20a1.15 1.15 0 1 0 2.3 0a1.15 1.15 0 1 0 -2.3 0M466.95 109.50a1.15 1.15 0 1 0 2.3 0a1.15 1.15 0 1 0 -2.3 0M468.65 111.20a1.15 1.15 0 1 0 2.3 0a1.15 1.15 0 1 0 -2.3 0M470.25 113.90a1.15 1.15 0 1 0 2.3 0a1.15 1.15 0 1 0 -2.3 0M474.65 123.20a1.15 1.15 0 1 0 2.3 0a1.15 1.15 0 1 0 -2.3 0M475.15 125.40a1.15 1.15 0 1 0 2.3 0a1.15 1.15 0 1 0 -2.3 0M477.95 140.70a1.15 1.15 0 1 0 2.3 0a1.15 1.15 0 1 0 -2.3 0M479.55 141.30a1.15 1.15 0 1 0 2.3 0a1.15 1.15 0 1 0 -2.3 0M468.65 148.90a1.15 1.15 0 1 0 2.3 0a1.15 1.15 0 1 0 -2.3 0M473.15 97.40a1.15 1.15 0 1 0 2.3 0a1.15 1.15 0 1 0 -2.3 0M467.35 138.00a1.15 1.15 0 1 0 2.3 0a1.15 1.15 0 1 0 -2.3 0M472.35 139.00a1.15 1.15 0 1 0 2.3 0a1.15 1.15 0 1 0 -2.3 0" fill="#f2300e"/>
<path d="M675.05 172.80a1.15 1.15 0 1 0 2.3 0a1.15 1.15 0 1 0 -2.3 0" fill="#1a1ea0"/>
<path d="M681.65 79.90a1.15 1.15 0 1 0 2.3 0a1.15 1.15 0 1 0 -2.3 0M682.75 89.10a1.15 1.15 0 1 0 2.3 0a1.15 1.15 0 1 0 -2.3 0M680.15 92.70a1.15 1.15 0 1 0 2.3 0a1.15 1.15 0 1 0 -2.3 0M682.75 96.80a1.15 1.15 0 1 0 2.3 0a1.15 1.15 0 1 0 -2.3 0M687.55 90.20a1.15 1.15 0 1 0 2.3 0a1.15 1.15 0 1 0 -2.3 0M690.15 91.40a1.15 1.15 0 1 0 2.3 0a1.15 1.15 0 1 0 -2.3 0M690.65 94.80a1.15 1.15 0 1 0 2.3 0a1.15 1.15 0 1 0 -2.3 0M691.15 96.00a1.15 1.15 0 1 0 2.3 0a1.15 1.15 0 1 0 -2.3 0M694.95 93.70a1.15 1.15 0 1 0 2.3 0a1.15 1.15 0 1 0 -2.3 0M697.05 88.10a1.15 1.15 0 1 0 2.3 0a1.15 1.15 0 1 0 -2.3 0M699.35 87.60a1.15 1.15 0 1 0 2.3 0a1.15 1.15 0 1 0 -2.3 0M704.15 86.60a1.15 1.15 0 1 0 2.3 0a1.15 1.15 0 1 0 -2.3 0M703.65 96.80a1.15 1.15 0 1 0 2.3 0a1.15 1.15 0 1 0 -2.3 0M692.65 98.90a1.15 1.15 0 1 0 2.3 0a1.15 1.15 0 1 0 -2.3 0M695.75 99.10a1.15 1.15 0 1 0 2.3 0a1.15 1.15 0 1 0 -2.3 0M693.15 104.50a1.15 1.15 0 1 0 2.3 0a1.15 1.15 0 1 0 -2.3 0M700.55 104.50a1.15 1.15 0 1 0 2.3 0a1.15 1.15 0 1 0 -2.3 0M698.25 107.50a1.15 1.15 0 1 0 2.3 0a1.15 1.15 0 1 0 -2.3 0M696.75 111.40a1.15 1.15 0 1 0 2.3 0a1.15 1.15 0 1 0 -2.3 0M689.35 93.00a1.15 1.15 0 1 0 2.3 0a1.15 1.15 0 1 0 -2.3 0" fill="#1c2ae0"/>
<circle cx="579.7" cy="115.4" r="0.55" fill="#7a3a7a"/>
<text x="471.6" y="235.8" class="cnt" fill="#dc5460" text-anchor="middle">75</text>
<text x="579.4" y="235.8" class="cnt" fill="#8c4a8c" text-anchor="middle">0</text>
<text x="693" y="235.8" class="cnt" fill="#5252cc" text-anchor="middle">21</text>
<text x="9.1" y="287.2" class="ttl">C.</text>
<text x="33.5" y="287.2" class="ttl">rs5919392</text>
<clipPath id="pkC"><polygon points="30.5,293.5 116.8,293.5 116.8,293.5 116.8,294.2 116.8,295.1 116.7,296.3 116.7,297.5 116.6,298.8 116.6,300.0 116.5,301.1 116.3,302.0 116.1,302.7 115.8,303.2 115.5,303.6 115.2,304.0 114.9,304.3 114.6,304.8 114.3,305.3 114.0,306.0 113.8,306.9 113.6,307.9 113.4,309.0 113.2,310.1 113.1,311.3 112.9,312.6 112.8,313.8 112.6,315.0 112.4,316.2 112.3,317.3 112.1,318.5 111.9,319.6 111.8,320.8 111.6,322.1 111.4,323.5 111.3,325.0 111.2,326.6 111.0,328.2 110.9,329.8 110.8,331.6 110.7,333.4 110.5,335.4 110.4,337.6 110.3,340.0 110.2,342.6 110.1,345.3 110.0,348.1 109.9,351.1 109.8,354.3 109.7,357.6 109.5,361.2 109.3,365.0 109.0,369.1 108.7,373.5 108.4,378.1 108.1,383.0 107.7,387.9 107.2,392.8 106.7,397.7 106.1,402.5 105.4,407.2 104.7,412.1 103.9,416.9 103.0,421.7 102.1,426.5 101.2,431.2 100.3,435.7 99.4,440.0 98.5,444.2 97.6,448.2 96.6,452.1 95.7,455.9 94.7,459.6 93.8,463.2 92.8,466.7 91.9,470.0 90.9,473.3 89.8,476.7 88.8,480.0 87.7,483.1 86.7,486.0 85.7,488.6 85.0,490.8 84.4,492.5 84.4,492.5 30.5,492.5"/></clipPath>
<clipPath id="puC"><polygon points="116.8,293.5 276.2,293.5 276.2,293.5 276.1,294.2 276.1,295.2 276.0,296.4 275.9,297.7 275.8,299.1 275.7,300.4 275.6,301.8 275.5,303.0 275.4,304.2 275.3,305.3 275.2,306.5 275.0,307.6 274.9,308.7 274.8,309.8 274.6,310.9 274.5,312.0 274.3,313.0 274.2,313.9 274.0,314.7 273.8,315.6 273.7,316.5 273.5,317.5 273.3,318.6 273.2,320.0 273.1,321.5 273.0,323.1 272.8,324.8 272.7,326.7 272.6,328.7 272.6,330.9 272.5,333.3 272.4,336.0 272.3,339.0 272.3,342.4 272.3,346.0 272.2,349.8 272.2,353.7 272.1,357.6 272.1,361.4 272.0,365.0 271.9,368.6 271.8,372.2 271.6,375.9 271.5,379.5 271.3,383.0 271.1,386.3 271.0,389.3 270.8,392.0 270.7,394.1 270.5,395.7 270.4,397.0 270.3,398.0 270.2,399.2 270.0,400.6 269.8,402.4 269.6,405.0 269.3,408.2 269.1,411.7 268.7,415.6 268.4,419.8 268.0,424.3 267.7,429.2 267.2,434.3 266.8,439.6 266.3,445.7 265.7,452.8 265.0,460.4 264.4,468.2 263.7,475.7 263.1,482.6 262.7,488.3 262.3,492.5 262.3,492.5 84.4,492.5 84.4,492.5 85.0,490.8 85.7,488.6 86.7,486.0 87.7,483.1 88.8,480.0 89.8,476.7 90.9,473.3 91.9,470.0 92.8,466.7 93.8,463.2 94.7,459.6 95.7,455.9 96.6,452.1 97.6,448.2 98.5,444.2 99.4,440.0 100.3,435.7 101.2,431.2 102.1,426.5 103.0,421.7 103.9,416.9 104.7,412.1 105.4,407.2 106.1,402.5 106.7,397.7 107.2,392.8 107.7,387.9 108.1,383.0 108.4,378.1 108.7,373.5 109.0,369.1 109.3,365.0 109.5,361.2 109.7,357.6 109.8,354.3 109.9,351.1 110.0,348.1 110.1,345.3 110.2,342.6 110.3,340.0 110.4,337.6 110.5,335.4 110.7,333.4 110.8,331.6 110.9,329.8 111.0,328.2 111.2,326.6 111.3,325.0 111.4,323.5 111.6,322.1 111.8,320.8 111.9,319.6 112.1,318.5 112.3,317.3 112.4,316.2 112.6,315.0 112.8,313.8 112.9,312.6 113.1,311.3 113.2,310.1 113.4,309.0 113.6,307.9 113.8,306.9 114.0,306.0 114.3,305.3 114.6,304.8 114.9,304.3 115.2,304.0 115.5,303.6 115.8,303.2 116.1,302.7 116.3,302.0 116.5,301.1 116.6,300.0 116.6,298.8 116.7,297.5 116.7,296.3 116.8,295.1 116.8,294.2 116.8,293.5"/></clipPath>
<clipPath id="blC"><polygon points="276.2,293.5 371.5,293.5 371.5,492.5 262.3,492.5 262.3,492.5 262.7,488.3 263.1,482.6 263.7,475.7 264.4,468.2 265.0,460.4 265.7,452.8 266.3,445.7 266.8,439.6 267.2,434.3 267.7,429.2 268.0,424.3 268.4,419.8 268.7,415.6 269.1,411.7 269.3,408.2 269.6,405.0 269.8,402.4 270.0,400.6 270.2,399.2 270.3,398.0 270.4,397.0 270.5,395.7 270.7,394.1 270.8,392.0 271.0,389.3 271.1,386.3 271.3,383.0 271.5,379.5 271.6,375.9 271.8,372.2 271.9,368.6 272.0,365.0 272.1,361.4 272.1,357.6 272.2,353.7 272.2,349.8 272.3,346.0 272.3,342.4 272.3,339.0 272.4,336.0 272.5,333.3 272.6,330.9 272.6,328.7 272.7,326.7 272.8,324.8 273.0,323.1 273.1,321.5 273.2,320.0 273.3,318.6 273.5,317.5 273.7,316.5 273.8,315.6 274.0,314.7 274.2,313.9 274.3,313.0 274.5,312.0 274.6,310.9 274.8,309.8 274.9,308.7 275.0,307.6 275.2,306.5 275.3,305.3 275.4,304.2 275.5,303.0 275.6,301.8 275.7,300.4 275.8,299.1 275.9,297.7 276.0,296.4 276.1,295.2 276.1,294.2 276.2,293.5"/></clipPath>
<polygon points="30.5,293.5 116.8,293.5 116.8,293.5 116.8,294.2 116.8,295.1 116.7,296.3 116.7,297.5 116.6,298.8 116.6,300.0 116.5,301.1 116.3,302.0 116.1,302.7 115.8,303.2 115.5,303.6 115.2,304.0 114.9,304.3 114.6,304.8 114.3,305.3 114.0,306.0 113.8,306.9 113.6,307.9 113.4,309.0 113.2,310.1 113.1,311.3 112.9,312.6 112.8,313.8 112.6,315.0 112.4,316.2 112.3,317.3 112.1,318.5 111.9,319.6 111.8,320.8 111.6,322.1 111.4,323.5 111.3,325.0 111.2,326.6 111.0,328.2 110.9,329.8 110.8,331.6 110.7,333.4 110.5,335.4 110.4,337.6 110.3,340.0 110.2,342.6 110.1,345.3 110.0,348.1 109.9,351.1 109.8,354.3 109.7,357.6 109.5,361.2 109.3,365.0 109.0,369.1 108.7,373.5 108.4,378.1 108.1,383.0 107.7,387.9 107.2,392.8 106.7,397.7 106.1,402.5 105.4,407.2 104.7,412.1 103.9,416.9 103.0,421.7 102.1,426.5 101.2,431.2 100.3,435.7 99.4,440.0 98.5,444.2 97.6,448.2 96.6,452.1 95.7,455.9 94.7,459.6 93.8,463.2 92.8,466.7 91.9,470.0 90.9,473.3 89.8,476.7 88.8,480.0 87.7,483.1 86.7,486.0 85.7,488.6 85.0,490.8 84.4,492.5 84.4,492.5 30.5,492.5" fill="#fee7e6"/>
<polygon points="116.8,293.5 276.2,293.5 276.2,293.5 276.1,294.2 276.1,295.2 276.0,296.4 275.9,297.7 275.8,299.1 275.7,300.4 275.6,301.8 275.5,303.0 275.4,304.2 275.3,305.3 275.2,306.5 275.0,307.6 274.9,308.7 274.8,309.8 274.6,310.9 274.5,312.0 274.3,313.0 274.2,313.9 274.0,314.7 273.8,315.6 273.7,316.5 273.5,317.5 273.3,318.6 273.2,320.0 273.1,321.5 273.0,323.1 272.8,324.8 272.7,326.7 272.6,328.7 272.6,330.9 272.5,333.3 272.4,336.0 272.3,339.0 272.3,342.4 272.3,346.0 272.2,349.8 272.2,353.7 272.1,357.6 272.1,361.4 272.0,365.0 271.9,368.6 271.8,372.2 271.6,375.9 271.5,379.5 271.3,383.0 271.1,386.3 271.0,389.3 270.8,392.0 270.7,394.1 270.5,395.7 270.4,397.0 270.3,398.0 270.2,399.2 270.0,400.6 269.8,402.4 269.6,405.0 269.3,408.2 269.1,411.7 268.7,415.6 268.4,419.8 268.0,424.3 267.7,429.2 267.2,434.3 266.8,439.6 266.3,445.7 265.7,452.8 265.0,460.4 264.4,468.2 263.7,475.7 263.1,482.6 262.7,488.3 262.3,492.5 262.3,492.5 84.4,492.5 84.4,492.5 85.0,490.8 85.7,488.6 86.7,486.0 87.7,483.1 88.8,480.0 89.8,476.7 90.9,473.3 91.9,470.0 92.8,466.7 93.8,463.2 94.7,459.6 95.7,455.9 96.6,452.1 97.6,448.2 98.5,444.2 99.4,440.0 100.3,435.7 101.2,431.2 102.1,426.5 103.0,421.7 103.9,416.9 104.7,412.1 105.4,407.2 106.1,402.5 106.7,397.7 107.2,392.8 107.7,387.9 108.1,383.0 108.4,378.1 108.7,373.5 109.0,369.1 109.3,365.0 109.5,361.2 109.7,357.6 109.8,354.3 109.9,351.1 110.0,348.1 110.1,345.3 110.2,342.6 110.3,340.0 110.4,337.6 110.5,335.4 110.7,333.4 110.8,331.6 110.9,329.8 111.0,328.2 111.2,326.6 111.3,325.0 111.4,323.5 111.6,322.1 111.8,320.8 111.9,319.6 112.1,318.5 112.3,317.3 112.4,316.2 112.6,315.0 112.8,313.8 112.9,312.6 113.1,311.3 113.2,310.1 113.4,309.0 113.6,307.9 113.8,306.9 114.0,306.0 114.3,305.3 114.6,304.8 114.9,304.3 115.2,304.0 115.5,303.6 115.8,303.2 116.1,302.7 116.3,302.0 116.5,301.1 116.6,300.0 116.6,298.8 116.7,297.5 116.7,296.3 116.8,295.1 116.8,294.2 116.8,293.5" fill="#f2e6f6"/>
<polygon points="276.2,293.5 371.5,293.5 371.5,492.5 262.3,492.5 262.3,492.5 262.7,488.3 263.1,482.6 263.7,475.7 264.4,468.2 265.0,460.4 265.7,452.8 266.3,445.7 266.8,439.6 267.2,434.3 267.7,429.2 268.0,424.3 268.4,419.8 268.7,415.6 269.1,411.7 269.3,408.2 269.6,405.0 269.8,402.4 270.0,400.6 270.2,399.2 270.3,398.0 270.4,397.0 270.5,395.7 270.7,394.1 270.8,392.0 271.0,389.3 271.1,386.3 271.3,383.0 271.5,379.5 271.6,375.9 271.8,372.2 271.9,368.6 272.0,365.0 272.1,361.4 272.1,357.6 272.2,353.7 272.2,349.8 272.3,346.0 272.3,342.4 272.3,339.0 272.4,336.0 272.5,333.3 272.6,330.9 272.6,328.7 272.7,326.7 272.8,324.8 273.0,323.1 273.1,321.5 273.2,320.0 273.3,318.6 273.5,317.5 273.7,316.5 273.8,315.6 274.0,314.7 274.2,313.9 274.3,313.0 274.5,312.0 274.6,310.9 274.8,309.8 274.9,308.7 275.0,307.6 275.2,306.5 275.3,305.3 275.4,304.2 275.5,303.0 275.6,301.8 275.7,300.4 275.8,299.1 275.9,297.7 276.0,296.4 276.1,295.2 276.1,294.2 276.2,293.5" fill="#e4e5fe"/>
<path d="M30.5 510.3H371.5M30.5 474.7H371.5M30.5 456.9H371.5M30.5 439.2H371.5M30.5 421.4H371.5M30.5 403.6H371.5M30.5 385.8H371.5M30.5 368.0H371.5M30.5 350.3H371.5M30.5 332.5H371.5M30.5 314.7H371.5M30.5 296.9H371.5M115.3 293.5V526.5M172.1 293.5V526.5M228.9 293.5V526.5M285.7 293.5V526.5M342.5 293.5V526.5" class="grid"/>
<g clip-path="url(#pkC)"><rect x="0" y="260" width="90.5" height="148.5" rx="9.5" fill="#ffcecb"/></g>
<g clip-path="url(#puC)"><rect x="131" y="260" width="74.5" height="155.7" rx="15" fill="#e6cfe6"/></g>
<g clip-path="url(#blC)"><rect x="312.9" y="260" width="87.1" height="164.6" rx="10" fill="#cecefd"/></g>
<path d="M30.5 510.3H371.5M30.5 474.7H371.5M30.5 456.9H371.5M30.5 439.2H371.5M30.5 421.4H371.5M30.5 403.6H371.5M30.5 385.8H371.5M30.5 368.0H371.5M30.5 350.3H371.5M30.5 332.5H371.5M30.5 314.7H371.5M30.5 296.9H371.5M115.3 293.5V526.5M172.1 293.5V526.5M228.9 293.5V526.5M285.7 293.5V526.5M342.5 293.5V526.5" class="grid2"/>
<polyline points="116.8,293.5 116.8,294.2 116.8,295.1 116.7,296.3 116.7,297.5 116.6,298.8 116.6,300.0 116.5,301.1 116.3,302.0 116.1,302.7 115.8,303.2 115.5,303.6 115.2,304.0 114.9,304.3 114.6,304.8 114.3,305.3 114.0,306.0 113.8,306.9 113.6,307.9 113.4,309.0 113.2,310.1 113.1,311.3 112.9,312.6 112.8,313.8 112.6,315.0 112.4,316.2 112.3,317.3 112.1,318.5 111.9,319.6 111.8,320.8 111.6,322.1 111.4,323.5 111.3,325.0 111.2,326.6 111.0,328.2 110.9,329.8 110.8,331.6 110.7,333.4 110.5,335.4 110.4,337.6 110.3,340.0 110.2,342.6 110.1,345.3 110.0,348.1 109.9,351.1 109.8,354.3 109.7,357.6 109.5,361.2 109.3,365.0 109.0,369.1 108.7,373.5 108.4,378.1 108.1,383.0 107.7,387.9 107.2,392.8 106.7,397.7 106.1,402.5 105.4,407.2 104.7,412.1 103.9,416.9 103.0,421.7 102.1,426.5 101.2,431.2 100.3,435.7 99.4,440.0 98.5,444.2 97.6,448.2 96.6,452.1 95.7,455.9 94.7,459.6 93.8,463.2 92.8,466.7 91.9,470.0 90.9,473.3 89.8,476.7 88.8,480.0 87.7,483.1 86.7,486.0 85.7,488.6 85.0,490.8 84.4,492.5" class="wb"/>
<polyline points="276.2,293.5 276.1,294.2 276.1,295.2 276.0,296.4 275.9,297.7 275.8,299.1 275.7,300.4 275.6,301.8 275.5,303.0 275.4,304.2 275.3,305.3 275.2,306.5 275.0,307.6 274.9,308.7 274.8,309.8 274.6,310.9 274.5,312.0 274.3,313.0 274.2,313.9 274.0,314.7 273.8,315.6 273.7,316.5 273.5,317.5 273.3,318.6 273.2,320.0 273.1,321.5 273.0,323.1 272.8,324.8 272.7,326.7 272.6,328.7 272.6,330.9 272.5,333.3 272.4,336.0 272.3,339.0 272.3,342.4 272.3,346.0 272.2,349.8 272.2,353.7 272.1,357.6 272.1,361.4 272.0,365.0 271.9,368.6 271.8,372.2 271.6,375.9 271.5,379.5 271.3,383.0 271.1,386.3 271.0,389.3 270.8,392.0 270.7,394.1 270.5,395.7 270.4,397.0 270.3,398.0 270.2,399.2 270.0,400.6 269.8,402.4 269.6,405.0 269.3,408.2 269.1,411.7 268.7,415.6 268.4,419.8 268.0,424.3 267.7,429.2 267.2,434.3 266.8,439.6 266.3,445.7 265.7,452.8 265.0,460.4 264.4,468.2 263.7,475.7 263.1,482.6 262.7,488.3 262.3,492.5" class="wb"/>
<path d="M30.5 492.5H371.5" class="zero"/>
<path d="M58.5 293.5V526.5" class="x0"/>
<path d="M30.5 293.5H371.5V526.5" fill="none" stroke="#a8a8a8" stroke-width="1"/>
<path d="M30.5 293.5V526.5H371.5" fill="none" stroke="#999" stroke-width="1"/>
<text x="28.5" y="511.5" class="tk" text-anchor="end">-0.20</text>
<text x="28.5" y="493.7" class="tk" text-anchor="end">0</text>
<text x="28.5" y="475.9" class="tk" text-anchor="end">0.20</text>
<text x="28.5" y="458.1" class="tk" text-anchor="end">0.40</text>
<text x="28.5" y="440.4" class="tk" text-anchor="end">0.60</text>
<text x="28.5" y="422.6" class="tk" text-anchor="end">0.80</text>
<text x="28.5" y="404.8" class="tk" text-anchor="end">1</text>
<text x="28.5" y="387.0" class="tk" text-anchor="end">1.20</text>
<text x="28.5" y="369.2" class="tk" text-anchor="end">1.40</text>
<text x="28.5" y="351.5" class="tk" text-anchor="end">1.60</text>
<text x="28.5" y="333.7" class="tk" text-anchor="end">1.80</text>
<text x="28.5" y="315.9" class="tk" text-anchor="end">2.00</text>
<text x="28.5" y="298.1" class="tk" text-anchor="end">2.20</text>
<text x="58.5" y="529.4" class="tk" text-anchor="middle">0</text>
<text x="115.3" y="529.4" class="tk" text-anchor="middle">0.20</text>
<text x="172.1" y="529.4" class="tk" text-anchor="middle">0.40</text>
<text x="228.9" y="529.4" class="tk" text-anchor="middle">0.60</text>
<text x="285.7" y="529.4" class="tk" text-anchor="middle">0.80</text>
<text x="342.5" y="529.4" class="tk" text-anchor="middle">1</text>
<path d="M29.0 510.3H30.5M29.0 492.5H30.5M29.0 474.7H30.5M29.0 456.9H30.5M29.0 439.2H30.5M29.0 421.4H30.5M29.0 403.6H30.5M29.0 385.8H30.5M29.0 368.0H30.5M29.0 350.3H30.5M29.0 332.5H30.5M29.0 314.7H30.5M29.0 296.9H30.5M58.5 526.5V528.0M115.3 526.5V528.0M172.1 526.5V528.0M228.9 526.5V528.0M285.7 526.5V528.0M342.5 526.5V528.0" class="tick"/>
<text x="200.3" y="534.2" class="ax" text-anchor="middle">Norm Theta</text>
<text transform="translate(16.1,410.5) rotate(-90)" class="ax" text-anchor="middle">Norm R</text>
<ellipse cx="63.9" cy="368.4" rx="12.8" ry="18.3" fill="none" stroke="#d47c7c" stroke-width="0.6"/>
<ellipse cx="168.9" cy="374.6" rx="17.6" ry="18.9" fill="none" stroke="#904e92" stroke-width="0.6"/>
<ellipse cx="334.8" cy="375.4" rx="10.5" ry="22.1" fill="none" stroke="#5c5cd0" stroke-width="0.6"/>
<path d="M60.60 356.20a1.2 1.2 0 1 0 2.4 0a1.2 1.2 0 1 0 -2.4 0M68.50 360.80a1.2 1.2 0 1 0 2.4 0a1.2 1.2 0 1 0 -2.4 0M60.90 374.10a1.2 1.2 0 1 0 2.4 0a1.2 1.2 0 1 0 -2.4 0M62.10 373.60a1.2 1.2 0 1 0 2.4 0a1.2 1.2 0 1 0 -2.4 0M61.90 376.90a1.2 1.2 0 1 0 2.4 0a1.2 1.2 0 1 0 -2.4 0" fill="#d42a30"/>
<path d="M337.80 327.00a1.2 1.2 0 1 0 2.4 0a1.2 1.2 0 1 0 -2.4 0M315.40 421.70a1.2 1.2 0 1 0 2.4 0a1.2 1.2 0 1 0 -2.4 0" fill="#1a1ea0"/>
<path d="M337.80 340.90a1.2 1.2 0 1 0 2.4 0a1.2 1.2 0 1 0 -2.4 0M336.30 348.70a1.2 1.2 0 1 0 2.4 0a1.2 1.2 0 1 0 -2.4 0" fill="#1c24c0"/>
<path d="M332.44 375.67a1.2 1.2 0 1 0 2.4 0a1.2 1.2 0 1 0 -2.4 0M332.79 377.66a1.2 1.2 0 1 0 2.4 0a1.2 1.2 0 1 0 -2.4 0M335.90 367.44a1.2 1.2 0 1 0 2.4 0a1.2 1.2 0 1 0 -2.4 0M334.44 375.59a1.2 1.2 0 1 0 2.4 0a1.2 1.2 0 1 0 -2.4 0M334.27 371.87a1.2 1.2 0 1 0 2.4 0a1.2 1.2 0 1 0 -2.4 0M334.12 382.31a1.2 1.2 0 1 0 2.4 0a1.2 1.2 0 1 0 -2.4 0M334.26 372.38a1.2 1.2 0 1 0 2.4 0a1.2 1.2 0 1 0 -2.4 0M335.41 380.46a1.2 1.2 0 1 0 2.4 0a1.2 1.2 0 1 0 -2.4 0M335.03 386.15a1.2 1.2 0 1 0 2.4 0a1.2 1.2 0 1 0 -2.4 0M334.52 375.12a1.2 1.2 0 1 0 2.4 0a1.2 1.2 0 1 0 -2.4 0M332.64 373.39a1.2 1.2 0 1 0 2.4 0a1.2 1.2 0 1 0 -2.4 0M334.97 378.15a1.2 1.2 0 1 0 2.4 0a1.2 1.2 0 1 0 -2.4 0M333.17 376.99a1.2 1.2 0 1 0 2.4 0a1.2 1.2 0 1 0 -2.4 0M335.84 371.04a1.2 1.2 0 1 0 2.4 0a1.2 1.2 0 1 0 -2.4 0M332.29 379.77a1.2 1.2 0 1 0 2.4 0a1.2 1.2 0 1 0 -2.4 0M333.99 389.09a1.2 1.2 0 1 0 2.4 0a1.2 1.2 0 1 0 -2.4 0M334.19 375.45a1.2 1.2 0 1 0 2.4 0a1.2 1.2 0 1 0 -2.4 0M332.21 375.78a1.2 1.2 0 1 0 2.4 0a1.2 1.2 0 1 0 -2.4 0M336.78 370.73a1.2 1.2 0 1 0 2.4 0a1.2 1.2 0 1 0 -2.4 0M336.39 378.91a1.2 1.2 0 1 0 2.4 0a1.2 1.2 0 1 0 -2.4 0M333.50 369.52a1.2 1.2 0 1 0 2.4 0a1.2 1.2 0 1 0 -2.4 0M335.36 370.36a1.2 1.2 0 1 0 2.4 0a1.2 1.2 0 1 0 -2.4 0M334.77 384.68a1.2 1.2 0 1 0 2.4 0a1.2 1.2 0 1 0 -2.4 0M330.28 371.57a1.2 1.2 0 1 0 2.4 0a1.2 1.2 0 1 0 -2.4 0M334.58 383.49a1.2 1.2 0 1 0 2.4 0a1.2 1.2 0 1 0 -2.4 0M334.11 386.15a1.2 1.2 0 1 0 2.4 0a1.2 1.2 0 1 0 -2.4 0M334.32 378.56a1.2 1.2 0 1 0 2.4 0a1.2 1.2 0 1 0 -2.4 0M332.58 380.32a1.2 1.2 0 1 0 2.4 0a1.2 1.2 0 1 0 -2.4 0M333.80 388.71a1.2 1.2 0 1 0 2.4 0a1.2 1.2 0 1 0 -2.4 0M333.93 375.82a1.2 1.2 0 1 0 2.4 0a1.2 1.2 0 1 0 -2.4 0M335.98 373.44a1.2 1.2 0 1 0 2.4 0a1.2 1.2 0 1 0 -2.4 0M334.70 368.88a1.2 1.2 0 1 0 2.4 0a1.2 1.2 0 1 0 -2.4 0M334.19 377.25a1.2 1.2 0 1 0 2.4 0a1.2 1.2 0 1 0 -2.4 0M336.49 385.87a1.2 1.2 0 1 0 2.4 0a1.2 1.2 0 1 0 -2.4 0M333.37 382.76a1.2 1.2 0 1 0 2.4 0a1.2 1.2 0 1 0 -2.4 0M333.62 371.35a1.2 1.2 0 1 0 2.4 0a1.2 1.2 0 1 0 -2.4 0M331.47 371.87a1.2 1.2 0 1 0 2.4 0a1.2 1.2 0 1 0 -2.4 0M336.55 373.97a1.2 1.2 0 1 0 2.4 0a1.2 1.2 0 1 0 -2.4 0M335.65 378.75a1.2 1.2 0 1 0 2.4 0a1.2 1.2 0 1 0 -2.4 0M335.58 375.77a1.2 1.2 0 1 0 2.4 0a1.2 1.2 0 1 0 -2.4 0M335.20 378.29a1.2 1.2 0 1 0 2.4 0a1.2 1.2 0 1 0 -2.4 0M334.37 378.78a1.2 1.2 0 1 0 2.4 0a1.2 1.2 0 1 0 -2.4 0M334.52 375.21a1.2 1.2 0 1 0 2.4 0a1.2 1.2 0 1 0 -2.4 0M333.82 376.76a1.2 1.2 0 1 0 2.4 0a1.2 1.2 0 1 0 -2.4 0M333.89 378.24a1.2 1.2 0 1 0 2.4 0a1.2 1.2 0 1 0 -2.4 0M334.28 376.50a1.2 1.2 0 1 0 2.4 0a1.2 1.2 0 1 0 -2.4 0M336.47 380.02a1.2 1.2 0 1 0 2.4 0a1.2 1.2 0 1 0 -2.4 0M335.03 388.23a1.2 1.2 0 1 0 2.4 0a1.2 1.2 0 1 0 -2.4 0M334.11 380.55a1.2 1.2 0 1 0 2.4 0a1.2 1.2 0 1 0 -2.4 0M333.33 377.33a1.2 1.2 0 1 0 2.4 0a1.2 1.2 0 1 0 -2.4 0M333.25 366.88a1.2 1.2 0 1 0 2.4 0a1.2 1.2 0 1 0 -2.4 0M336.60 379.33a1.2 1.2 0 1 0 2.4 0a1.2 1.2 0 1 0 -2.4 0M334.96 365.32a1.2 1.2 0 1 0 2.4 0a1.2 1.2 0 1 0 -2.4 0M334.30 368.55a1.2 1.2 0 1 0 2.4 0a1.2 1.2 0 1 0 -2.4 0M333.68 382.13a1.2 1.2 0 1 0 2.4 0a1.2 1.2 0 1 0 -2.4 0M332.54 381.24a1.2 1.2 0 1 0 2.4 0a1.2 1.2 0 1 0 -2.4 0M334.10 376.10a1.2 1.2 0 1 0 2.4 0a1.2 1.2 0 1 0 -2.4 0M335.51 366.74a1.2 1.2 0 1 0 2.4 0a1.2 1.2 0 1 0 -2.4 0M333.61 374.77a1.2 1.2 0 1 0 2.4 0a1.2 1.2 0 1 0 -2.4 0M333.86 372.93a1.2 1.2 0 1 0 2.4 0a1.2 1.2 0 1 0 -2.4 0M334.75 376.15a1.2 1.2 0 1 0 2.4 0a1.2 1.2 0 1 0 -2.4 0M337.66 375.50a1.2 1.2 0 1 0 2.4 0a1.2 1.2 0 1 0 -2.4 0M333.99 385.57a1.2 1.2 0 1 0 2.4 0a1.2 1.2 0 1 0 -2.4 0M332.20 381.14a1.2 1.2 0 1 0 2.4 0a1.2 1.2 0 1 0 -2.4 0M331.49 382.97a1.2 1.2 0 1 0 2.4 0a1.2 1.2 0 1 0 -2.4 0M333.50 386.51a1.2 1.2 0 1 0 2.4 0a1.2 1.2 0 1 0 -2.4 0M333.28 374.20a1.2 1.2 0 1 0 2.4 0a1.2 1.2 0 1 0 -2.4 0M331.53 378.47a1.2 1.2 0 1 0 2.4 0a1.2 1.2 0 1 0 -2.4 0M333.81 382.79a1.2 1.2 0 1 0 2.4 0a1.2 1.2 0 1 0 -2.4 0M331.53 383.76a1.2 1.2 0 1 0 2.4 0a1.2 1.2 0 1 0 -2.4 0M335.60 380.30a1.2 1.2 0 1 0 2.4 0a1.2 1.2 0 1 0 -2.4 0M335.51 386.63a1.2 1.2 0 1 0 2.4 0a1.2 1.2 0 1 0 -2.4 0M335.55 382.95a1.2 1.2 0 1 0 2.4 0a1.2 1.2 0 1 0 -2.4 0M332.75 376.54a1.2 1.2 0 1 0 2.4 0a1.2 1.2 0 1 0 -2.4 0M334.53 377.81a1.2 1.2 0 1 0 2.4 0a1.2 1.2 0 1 0 -2.4 0M333.36 385.62a1.2 1.2 0 1 0 2.4 0a1.2 1.2 0 1 0 -2.4 0M332.90 384.09a1.2 1.2 0 1 0 2.4 0a1.2 1.2 0 1 0 -2.4 0M332.99 373.45a1.2 1.2 0 1 0 2.4 0a1.2 1.2 0 1 0 -2.4 0M337.10 355.70a1.2 1.2 0 1 0 2.4 0a1.2 1.2 0 1 0 -2.4 0M333.20 358.80a1.2 1.2 0 1 0 2.4 0a1.2 1.2 0 1 0 -2.4 0M336.70 362.20a1.2 1.2 0 1 0 2.4 0a1.2 1.2 0 1 0 -2.4 0M332.10 364.20a1.2 1.2 0 1 0 2.4 0a1.2 1.2 0 1 0 -2.4 0M334.70 365.70a1.2 1.2 0 1 0 2.4 0a1.2 1.2 0 1 0 -2.4 0M327.00 378.90a1.2 1.2 0 1 0 2.4 0a1.2 1.2 0 1 0 -2.4 0M328.10 383.60a1.2 1.2 0 1 0 2.4 0a1.2 1.2 0 1 0 -2.4 0M337.80 387.00a1.2 1.2 0 1 0 2.4 0a1.2 1.2 0 1 0 -2.4 0M332.70 390.50a1.2 1.2 0 1 0 2.4 0a1.2 1.2 0 1 0 -2.4 0M332.40 395.70a1.2 1.2 0 1 0 2.4 0a1.2 1.2 0 1 0 -2.4 0M329.80 372.00a1.2 1.2 0 1 0 2.4 0a1.2 1.2 0 1 0 -2.4 0M335.80 370.00a1.2 1.2 0 1 0 2.4 0a1.2 1.2 0 1 0 -2.4 0M330.80 386.00a1.2 1.2 0 1 0 2.4 0a1.2 1.2 0 1 0 -2.4 0M335.30 392.00a1.2 1.2 0 1 0 2.4 0a1.2 1.2 0 1 0 -2.4 0M329.30 380.00a1.2 1.2 0 1 0 2.4 0a1.2 1.2 0 1 0 -2.4 0M337.30 380.00a1.2 1.2 0 1 0 2.4 0a1.2 1.2 0 1 0 -2.4 0M331.80 362.50a1.2 1.2 0 1 0 2.4 0a1.2 1.2 0 1 0 -2.4 0" fill="#1c2ae0"/>
<circle cx="64.4" cy="368.5" r="0.55" fill="#d04040"/>
<circle cx="168.9" cy="374.6" r="0.55" fill="#7a3a7a"/>
<text x="63.9" y="499.2" class="cnt" fill="#dc5460" text-anchor="middle">5</text>
<text x="168.2" y="499.2" class="cnt" fill="#8c4a8c" text-anchor="middle">0</text>
<text x="335" y="499.2" class="cnt" fill="#5252cc" text-anchor="middle">91</text>
<text x="412.9" y="287.6" class="ttl">D.</text>
<text x="438.5" y="287.6" class="ttl">rs17217069</text>
<clipPath id="pkD"><polygon points="436.0,302.6 436.2,302.6 437.0,303.1 438.0,303.8 439.3,304.7 440.7,305.6 442.1,306.6 443.6,307.6 445.1,308.6 446.4,309.6 447.7,310.6 449.0,311.5 450.3,312.6 451.5,313.6 452.8,314.6 454.0,315.6 455.2,316.5 456.3,317.4 457.3,318.2 458.3,318.9 459.2,319.6 460.1,320.3 460.9,320.9 461.8,321.6 462.6,322.3 463.4,323.0 464.2,323.8 465.0,324.6 465.8,325.4 466.6,326.2 467.3,327.0 468.0,327.8 468.7,328.7 469.4,329.6 470.0,330.5 470.6,331.4 471.2,332.4 471.7,333.4 472.3,334.4 472.8,335.3 473.3,336.3 473.8,337.3 474.3,338.2 474.8,339.1 475.3,340.0 475.7,340.8 476.2,341.7 476.6,342.7 477.1,343.8 477.5,345.0 477.9,346.3 478.4,347.8 478.8,349.3 479.2,350.9 479.6,352.5 479.9,354.3 480.3,356.1 480.6,358.0 480.9,360.0 481.2,362.0 481.4,364.1 481.6,366.3 481.8,368.6 482.0,371.0 482.2,373.4 482.3,376.0 482.4,378.7 482.5,381.7 482.5,384.7 482.5,387.9 482.5,391.0 482.6,394.1 482.7,397.2 482.8,400.0 483.0,402.7 483.2,405.4 483.4,408.0 483.7,410.6 483.9,413.0 484.2,415.4 484.6,417.8 484.9,420.0 485.3,422.1 485.7,424.2 486.1,426.1 486.6,428.0 487.1,429.8 487.5,431.6 488.0,433.3 488.4,435.0 488.8,436.6 489.1,438.0 489.5,439.2 489.8,440.5 490.2,441.8 490.6,443.3 491.0,445.0 491.5,447.0 492.1,449.4 492.7,452.0 493.3,454.8 494.0,457.8 494.8,460.9 495.5,464.0 496.3,467.1 497.1,470.0 498.0,473.0 499.0,476.2 500.1,479.5 501.2,482.7 502.2,485.8 503.1,488.5 503.9,490.9 504.5,492.6 504.5,492.5 436.0,492.5"/></clipPath>
<clipPath id="puD"><polygon points="436.0,294.5 659.0,294.5 659.0,294.5 659.3,295.4 659.6,296.5 660.0,297.9 660.4,299.4 660.9,301.1 661.4,302.8 661.9,304.6 662.3,306.4 662.7,308.2 663.1,310.2 663.6,312.2 664.0,314.3 664.4,316.4 664.8,318.6 665.2,320.7 665.6,322.8 666.0,324.9 666.3,326.9 666.6,329.0 667.0,331.1 667.3,333.1 667.6,335.2 667.8,337.2 668.1,339.3 668.3,341.4 668.6,343.4 668.8,345.5 669.0,347.5 669.1,349.6 669.3,351.6 669.5,353.7 669.7,355.7 669.9,357.7 670.1,359.7 670.2,361.6 670.4,363.6 670.6,365.6 670.8,367.6 671.0,369.7 671.2,372.0 671.4,374.4 671.6,376.8 671.9,379.4 672.1,382.0 672.4,384.7 672.6,387.4 672.9,390.1 673.2,392.8 673.5,395.6 673.8,398.4 674.1,401.2 674.4,404.1 674.8,407.0 675.2,409.9 675.6,412.7 676.0,415.6 676.5,418.5 676.9,421.3 677.5,424.2 678.0,427.0 678.6,429.9 679.2,432.7 679.8,435.6 680.5,438.4 681.2,441.2 682.0,444.1 682.8,446.9 683.7,449.8 684.5,452.6 685.5,455.5 686.4,458.3 687.4,461.2 688.5,464.1 689.7,467.2 690.9,470.4 692.2,473.5 693.4,476.5 694.6,479.3 695.6,481.8 696.5,484.0 697.2,485.8 697.8,487.3 698.3,488.6 698.8,489.7 699.1,490.6 699.4,491.3 699.7,491.9 699.9,492.5 699.9,492.5 504.5,492.5 504.5,492.6 503.9,490.9 503.1,488.5 502.2,485.8 501.2,482.7 500.1,479.5 499.0,476.2 498.0,473.0 497.1,470.0 496.3,467.1 495.5,464.0 494.8,460.9 494.0,457.8 493.3,454.8 492.7,452.0 492.1,449.4 491.5,447.0 491.0,445.0 490.6,443.3 490.2,441.8 489.8,440.5 489.5,439.2 489.1,438.0 488.8,436.6 488.4,435.0 488.0,433.3 487.5,431.6 487.1,429.8 486.6,428.0 486.1,426.1 485.7,424.2 485.3,422.1 484.9,420.0 484.6,417.8 484.2,415.4 483.9,413.0 483.7,410.6 483.4,408.0 483.2,405.4 483.0,402.7 482.8,400.0 482.7,397.2 482.6,394.1 482.5,391.0 482.5,387.9 482.5,384.7 482.5,381.7 482.4,378.7 482.3,376.0 482.2,373.4 482.0,371.0 481.8,368.6 481.6,366.3 481.4,364.1 481.2,362.0 480.9,360.0 480.6,358.0 480.3,356.1 479.9,354.3 479.6,352.5 479.2,350.9 478.8,349.3 478.4,347.8 477.9,346.3 477.5,345.0 477.1,343.8 476.6,342.7 476.2,341.7 475.7,340.8 475.3,340.0 474.8,339.1 474.3,338.2 473.8,337.3 473.3,336.3 472.8,335.3 472.3,334.4 471.7,333.4 471.2,332.4 470.6,331.4 470.0,330.5 469.4,329.6 468.7,328.7 468.0,327.8 467.3,327.0 466.6,326.2 465.8,325.4 465.0,324.6 464.2,323.8 463.4,323.0 462.6,322.3 461.8,321.6 460.9,320.9 460.1,320.3 459.2,319.6 458.3,318.9 457.3,318.2 456.3,317.4 455.2,316.5 454.0,315.6 452.8,314.6 451.5,313.6 450.3,312.6 449.0,311.5 447.7,310.6 446.4,309.6 445.1,308.6 443.6,307.6 442.1,306.6 440.7,305.6 439.3,304.7 438.0,303.8 437.0,303.1 436.2,302.6 436.0,302.6"/></clipPath>
<clipPath id="blD"><polygon points="659.0,294.5 772.5,294.5 772.5,492.5 699.9,492.5 699.9,492.5 699.7,491.9 699.4,491.3 699.1,490.6 698.8,489.7 698.3,488.6 697.8,487.3 697.2,485.8 696.5,484.0 695.6,481.8 694.6,479.3 693.4,476.5 692.2,473.5 690.9,470.4 689.7,467.2 688.5,464.1 687.4,461.2 686.4,458.3 685.5,455.5 684.5,452.6 683.7,449.8 682.8,446.9 682.0,444.1 681.2,441.2 680.5,438.4 679.8,435.6 679.2,432.7 678.6,429.9 678.0,427.0 677.5,424.2 676.9,421.3 676.5,418.5 676.0,415.6 675.6,412.7 675.2,409.9 674.8,407.0 674.4,404.1 674.1,401.2 673.8,398.4 673.5,395.6 673.2,392.8 672.9,390.1 672.6,387.4 672.4,384.7 672.1,382.0 671.9,379.4 671.6,376.8 671.4,374.4 671.2,372.0 671.0,369.7 670.8,367.6 670.6,365.6 670.4,363.6 670.2,361.6 670.1,359.7 669.9,357.7 669.7,355.7 669.5,353.7 669.3,351.6 669.1,349.6 669.0,347.5 668.8,345.5 668.6,343.4 668.3,341.4 668.1,339.3 667.8,337.2 667.6,335.2 667.3,333.1 667.0,331.1 666.6,329.0 666.3,326.9 666.0,324.9 665.6,322.8 665.2,320.7 664.8,318.6 664.4,316.4 664.0,314.3 663.6,312.2 663.1,310.2 662.7,308.2 662.3,306.4 661.9,304.6 661.4,302.8 660.9,301.1 660.4,299.4 660.0,297.9 659.6,296.5 659.3,295.4 659.0,294.5"/></clipPath>
<polygon points="436.0,302.6 436.2,302.6 437.0,303.1 438.0,303.8 439.3,304.7 440.7,305.6 442.1,306.6 443.6,307.6 445.1,308.6 446.4,309.6 447.7,310.6 449.0,311.5 450.3,312.6 451.5,313.6 452.8,314.6 454.0,315.6 455.2,316.5 456.3,317.4 457.3,318.2 458.3,318.9 459.2,319.6 460.1,320.3 460.9,320.9 461.8,321.6 462.6,322.3 463.4,323.0 464.2,323.8 465.0,324.6 465.8,325.4 466.6,326.2 467.3,327.0 468.0,327.8 468.7,328.7 469.4,329.6 470.0,330.5 470.6,331.4 471.2,332.4 471.7,333.4 472.3,334.4 472.8,335.3 473.3,336.3 473.8,337.3 474.3,338.2 474.8,339.1 475.3,340.0 475.7,340.8 476.2,341.7 476.6,342.7 477.1,343.8 477.5,345.0 477.9,346.3 478.4,347.8 478.8,349.3 479.2,350.9 479.6,352.5 479.9,354.3 480.3,356.1 480.6,358.0 480.9,360.0 481.2,362.0 481.4,364.1 481.6,366.3 481.8,368.6 482.0,371.0 482.2,373.4 482.3,376.0 482.4,378.7 482.5,381.7 482.5,384.7 482.5,387.9 482.5,391.0 482.6,394.1 482.7,397.2 482.8,400.0 483.0,402.7 483.2,405.4 483.4,408.0 483.7,410.6 483.9,413.0 484.2,415.4 484.6,417.8 484.9,420.0 485.3,422.1 485.7,424.2 486.1,426.1 486.6,428.0 487.1,429.8 487.5,431.6 488.0,433.3 488.4,435.0 488.8,436.6 489.1,438.0 489.5,439.2 489.8,440.5 490.2,441.8 490.6,443.3 491.0,445.0 491.5,447.0 492.1,449.4 492.7,452.0 493.3,454.8 494.0,457.8 494.8,460.9 495.5,464.0 496.3,467.1 497.1,470.0 498.0,473.0 499.0,476.2 500.1,479.5 501.2,482.7 502.2,485.8 503.1,488.5 503.9,490.9 504.5,492.6 504.5,492.5 436.0,492.5" fill="#fee7e6"/>
<polygon points="436.0,294.5 659.0,294.5 659.0,294.5 659.3,295.4 659.6,296.5 660.0,297.9 660.4,299.4 660.9,301.1 661.4,302.8 661.9,304.6 662.3,306.4 662.7,308.2 663.1,310.2 663.6,312.2 664.0,314.3 664.4,316.4 664.8,318.6 665.2,320.7 665.6,322.8 666.0,324.9 666.3,326.9 666.6,329.0 667.0,331.1 667.3,333.1 667.6,335.2 667.8,337.2 668.1,339.3 668.3,341.4 668.6,343.4 668.8,345.5 669.0,347.5 669.1,349.6 669.3,351.6 669.5,353.7 669.7,355.7 669.9,357.7 670.1,359.7 670.2,361.6 670.4,363.6 670.6,365.6 670.8,367.6 671.0,369.7 671.2,372.0 671.4,374.4 671.6,376.8 671.9,379.4 672.1,382.0 672.4,384.7 672.6,387.4 672.9,390.1 673.2,392.8 673.5,395.6 673.8,398.4 674.1,401.2 674.4,404.1 674.8,407.0 675.2,409.9 675.6,412.7 676.0,415.6 676.5,418.5 676.9,421.3 677.5,424.2 678.0,427.0 678.6,429.9 679.2,432.7 679.8,435.6 680.5,438.4 681.2,441.2 682.0,444.1 682.8,446.9 683.7,449.8 684.5,452.6 685.5,455.5 686.4,458.3 687.4,461.2 688.5,464.1 689.7,467.2 690.9,470.4 692.2,473.5 693.4,476.5 694.6,479.3 695.6,481.8 696.5,484.0 697.2,485.8 697.8,487.3 698.3,488.6 698.8,489.7 699.1,490.6 699.4,491.3 699.7,491.9 699.9,492.5 699.9,492.5 504.5,492.5 504.5,492.6 503.9,490.9 503.1,488.5 502.2,485.8 501.2,482.7 500.1,479.5 499.0,476.2 498.0,473.0 497.1,470.0 496.3,467.1 495.5,464.0 494.8,460.9 494.0,457.8 493.3,454.8 492.7,452.0 492.1,449.4 491.5,447.0 491.0,445.0 490.6,443.3 490.2,441.8 489.8,440.5 489.5,439.2 489.1,438.0 488.8,436.6 488.4,435.0 488.0,433.3 487.5,431.6 487.1,429.8 486.6,428.0 486.1,426.1 485.7,424.2 485.3,422.1 484.9,420.0 484.6,417.8 484.2,415.4 483.9,413.0 483.7,410.6 483.4,408.0 483.2,405.4 483.0,402.7 482.8,400.0 482.7,397.2 482.6,394.1 482.5,391.0 482.5,387.9 482.5,384.7 482.5,381.7 482.4,378.7 482.3,376.0 482.2,373.4 482.0,371.0 481.8,368.6 481.6,366.3 481.4,364.1 481.2,362.0 480.9,360.0 480.6,358.0 480.3,356.1 479.9,354.3 479.6,352.5 479.2,350.9 478.8,349.3 478.4,347.8 477.9,346.3 477.5,345.0 477.1,343.8 476.6,342.7 476.2,341.7 475.7,340.8 475.3,340.0 474.8,339.1 474.3,338.2 473.8,337.3 473.3,336.3 472.8,335.3 472.3,334.4 471.7,333.4 471.2,332.4 470.6,331.4 470.0,330.5 469.4,329.6 468.7,328.7 468.0,327.8 467.3,327.0 466.6,326.2 465.8,325.4 465.0,324.6 464.2,323.8 463.4,323.0 462.6,322.3 461.8,321.6 460.9,320.9 460.1,320.3 459.2,319.6 458.3,318.9 457.3,318.2 456.3,317.4 455.2,316.5 454.0,315.6 452.8,314.6 451.5,313.6 450.3,312.6 449.0,311.5 447.7,310.6 446.4,309.6 445.1,308.6 443.6,307.6 442.1,306.6 440.7,305.6 439.3,304.7 438.0,303.8 437.0,303.1 436.2,302.6 436.0,302.6" fill="#f2e6f6"/>
<polygon points="659.0,294.5 772.5,294.5 772.5,492.5 699.9,492.5 699.9,492.5 699.7,491.9 699.4,491.3 699.1,490.6 698.8,489.7 698.3,488.6 697.8,487.3 697.2,485.8 696.5,484.0 695.6,481.8 694.6,479.3 693.4,476.5 692.2,473.5 690.9,470.4 689.7,467.2 688.5,464.1 687.4,461.2 686.4,458.3 685.5,455.5 684.5,452.6 683.7,449.8 682.8,446.9 682.0,444.1 681.2,441.2 680.5,438.4 679.8,435.6 679.2,432.7 678.6,429.9 678.0,427.0 677.5,424.2 676.9,421.3 676.5,418.5 676.0,415.6 675.6,412.7 675.2,409.9 674.8,407.0 674.4,404.1 674.1,401.2 673.8,398.4 673.5,395.6 673.2,392.8 672.9,390.1 672.6,387.4 672.4,384.7 672.1,382.0 671.9,379.4 671.6,376.8 671.4,374.4 671.2,372.0 671.0,369.7 670.8,367.6 670.6,365.6 670.4,363.6 670.2,361.6 670.1,359.7 669.9,357.7 669.7,355.7 669.5,353.7 669.3,351.6 669.1,349.6 669.0,347.5 668.8,345.5 668.6,343.4 668.3,341.4 668.1,339.3 667.8,337.2 667.6,335.2 667.3,333.1 667.0,331.1 666.6,329.0 666.3,326.9 666.0,324.9 665.6,322.8 665.2,320.7 664.8,318.6 664.4,316.4 664.0,314.3 663.6,312.2 663.1,310.2 662.7,308.2 662.3,306.4 661.9,304.6 661.4,302.8 660.9,301.1 660.4,299.4 660.0,297.9 659.6,296.5 659.3,295.4 659.0,294.5" fill="#e4e5fe"/>
<path d="M436.0 517.1H772.5M436.0 467.9H772.5M436.0 443.4H772.5M436.0 418.8H772.5M436.0 394.3H772.5M436.0 369.7H772.5M436.0 345.1H772.5M436.0 320.6H772.5M436.0 296.0H772.5M519.6 294.5V526.0M575.7 294.5V526.0M631.9 294.5V526.0M688.0 294.5V526.0M744.1 294.5V526.0" class="grid"/>
<g clip-path="url(#pkD)"><rect x="400" y="260" width="83.8" height="168.7" rx="3.5" fill="#ffcecb"/></g>
<g clip-path="url(#puD)"><path d="M446.5 280H623.6V408a14 14 0 0 1 -14 14H491.5a6 6 0 0 1 -6 -6L482 400V360H446.5Z" fill="#e6cfe6"/></g>
<g clip-path="url(#blD)"><rect x="695.2" y="260" width="104.8" height="136.4" rx="10" fill="#cecefd"/></g>
<path d="M436.0 517.1H772.5M436.0 467.9H772.5M436.0 443.4H772.5M436.0 418.8H772.5M436.0 394.3H772.5M436.0 369.7H772.5M436.0 345.1H772.5M436.0 320.6H772.5M436.0 296.0H772.5M519.6 294.5V526.0M575.7 294.5V526.0M631.9 294.5V526.0M688.0 294.5V526.0M744.1 294.5V526.0" class="grid2"/>
<polygon points="436.5,294.5 446.3,294.5 447.0,301.0 450.0,306.0 455.0,311.0 460.0,316.0 464.5,321.0 463.4,323.5 450.0,313.0 436.5,302.6" fill="#f2e6f6"/>
<polyline points="436.2,302.6 437.0,303.1 438.0,303.8 439.3,304.7 440.7,305.6 442.1,306.6 443.6,307.6 445.1,308.6 446.4,309.6 447.7,310.6 449.0,311.5 450.3,312.6 451.5,313.6 452.8,314.6 454.0,315.6 455.2,316.5 456.3,317.4 457.3,318.2 458.3,318.9 459.2,319.6 460.1,320.3 460.9,320.9 461.8,321.6 462.6,322.3 463.4,323.0 464.2,323.8 465.0,324.6 465.8,325.4 466.6,326.2 467.3,327.0 468.0,327.8 468.7,328.7 469.4,329.6 470.0,330.5 470.6,331.4 471.2,332.4 471.7,333.4 472.3,334.4 472.8,335.3 473.3,336.3 473.8,337.3 474.3,338.2 474.8,339.1 475.3,340.0 475.7,340.8 476.2,341.7 476.6,342.7 477.1,343.8 477.5,345.0 477.9,346.3 478.4,347.8 478.8,349.3 479.2,350.9 479.6,352.5 479.9,354.3 480.3,356.1 480.6,358.0 480.9,360.0 481.2,362.0 481.4,364.1 481.6,366.3 481.8,368.6 482.0,371.0 482.2,373.4 482.3,376.0 482.4,378.7 482.5,381.7 482.5,384.7 482.5,387.9 482.5,391.0 482.6,394.1 482.7,397.2 482.8,400.0 483.0,402.7 483.2,405.4 483.4,408.0 483.7,410.6 483.9,413.0 484.2,415.4 484.6,417.8 484.9,420.0 485.3,422.1 485.7,424.2 486.1,426.1 486.6,428.0 487.1,429.8 487.5,431.6 488.0,433.3 488.4,435.0 488.8,436.6 489.1,438.0 489.5,439.2 489.8,440.5 490.2,441.8 490.6,443.3 491.0,445.0 491.5,447.0 492.1,449.4 492.7,452.0 493.3,454.8 494.0,457.8 494.8,460.9 495.5,464.0 496.3,467.1 497.1,470.0 498.0,473.0 499.0,476.2 500.1,479.5 501.2,482.7 502.2,485.8 503.1,488.5 503.9,490.9 504.5,492.6" class="wb"/>
<polyline points="659.0,294.5 659.3,295.4 659.6,296.5 660.0,297.9 660.4,299.4 660.9,301.1 661.4,302.8 661.9,304.6 662.3,306.4 662.7,308.2 663.1,310.2 663.6,312.2 664.0,314.3 664.4,316.4 664.8,318.6 665.2,320.7 665.6,322.8 666.0,324.9 666.3,326.9 666.6,329.0 667.0,331.1 667.3,333.1 667.6,335.2 667.8,337.2 668.1,339.3 668.3,341.4 668.6,343.4 668.8,345.5 669.0,347.5 669.1,349.6 669.3,351.6 669.5,353.7 669.7,355.7 669.9,357.7 670.1,359.7 670.2,361.6 670.4,363.6 670.6,365.6 670.8,367.6 671.0,369.7 671.2,372.0 671.4,374.4 671.6,376.8 671.9,379.4 672.1,382.0 672.4,384.7 672.6,387.4 672.9,390.1 673.2,392.8 673.5,395.6 673.8,398.4 674.1,401.2 674.4,404.1 674.8,407.0 675.2,409.9 675.6,412.7 676.0,415.6 676.5,418.5 676.9,421.3 677.5,424.2 678.0,427.0 678.6,429.9 679.2,432.7 679.8,435.6 680.5,438.4 681.2,441.2 682.0,444.1 682.8,446.9 683.7,449.8 684.5,452.6 685.5,455.5 686.4,458.3 687.4,461.2 688.5,464.1 689.7,467.2 690.9,470.4 692.2,473.5 693.4,476.5 694.6,479.3 695.6,481.8 696.5,484.0 697.2,485.8 697.8,487.3 698.3,488.6 698.8,489.7 699.1,490.6 699.4,491.3 699.7,491.9 699.9,492.5" class="wb"/>
<path d="M436 492.5H772.5" class="zero"/>
<path d="M463.5 294.5V526" class="x0"/>
<path d="M436 294.5H772.5V526" fill="none" stroke="#a4a4ac" stroke-width="1"/>
<path d="M436 294.5V526H772.5" fill="none" stroke="#c4c4c4" stroke-width="1"/>
<text x="434.0" y="518.3" class="tk" text-anchor="end">-0.20</text>
<text x="434.0" y="493.7" class="tk" text-anchor="end">0</text>
<text x="434.0" y="469.1" class="tk" text-anchor="end">0.20</text>
<text x="434.0" y="444.6" class="tk" text-anchor="end">0.40</text>
<text x="434.0" y="420.0" class="tk" text-anchor="end">0.60</text>
<text x="434.0" y="395.5" class="tk" text-anchor="end">0.80</text>
<text x="434.0" y="370.9" class="tk" text-anchor="end">1</text>
<text x="434.0" y="346.3" class="tk" text-anchor="end">1.20</text>
<text x="434.0" y="321.8" class="tk" text-anchor="end">1.40</text>
<text x="434.0" y="297.2" class="tk" text-anchor="end">1.60</text>
<text x="463.5" y="528.9" class="tk" text-anchor="middle">0</text>
<text x="519.6" y="528.9" class="tk" text-anchor="middle">0.20</text>
<text x="575.7" y="528.9" class="tk" text-anchor="middle">0.40</text>
<text x="631.9" y="528.9" class="tk" text-anchor="middle">0.60</text>
<text x="688.0" y="528.9" class="tk" text-anchor="middle">0.80</text>
<text x="744.1" y="528.9" class="tk" text-anchor="middle">1</text>
<path d="M434.5 517.1H436.0M434.5 492.5H436.0M434.5 467.9H436.0M434.5 443.4H436.0M434.5 418.8H436.0M434.5 394.3H436.0M434.5 369.7H436.0M434.5 345.1H436.0M434.5 320.6H436.0M434.5 296.0H436.0M463.5 526.0V527.5M519.6 526.0V527.5M575.7 526.0V527.5M631.9 526.0V527.5M688.0 526.0V527.5M744.1 526.0V527.5" class="tick"/>
<text x="603.8" y="534.0" class="ax" text-anchor="middle">Norm Theta</text>
<text transform="translate(422.2,407) rotate(-90)" class="ax" text-anchor="middle">Norm R</text>
<ellipse cx="463.9" cy="391.3" rx="13.7" ry="18.1" fill="none" stroke="#d47c7c" stroke-width="0.6"/>
<ellipse cx="535" cy="388" rx="42.8" ry="17.1" fill="none" stroke="#904e92" stroke-width="0.6"/>
<ellipse cx="732.9" cy="360.9" rx="18.9" ry="17.9" fill="none" stroke="#5c5cd0" stroke-width="0.6"/>
<path d="M518.75 379.20a0.95 0.95 0 1 0 1.9 0a0.95 0.95 0 1 0 -1.9 0M517.45 389.00a0.95 0.95 0 1 0 1.9 0a0.95 0.95 0 1 0 -1.9 0M535.65 383.60a0.95 0.95 0 1 0 1.9 0a0.95 0.95 0 1 0 -1.9 0M563.45 399.40a0.95 0.95 0 1 0 1.9 0a0.95 0.95 0 1 0 -1.9 0" fill="#621c62"/>
<path d="M722.45 331.50a0.95 0.95 0 1 0 1.9 0a0.95 0.95 0 1 0 -1.9 0M737.35 327.10a0.95 0.95 0 1 0 1.9 0a0.95 0.95 0 1 0 -1.9 0M736.05 339.40a0.95 0.95 0 1 0 1.9 0a0.95 0.95 0 1 0 -1.9 0M709.25 371.80a0.95 0.95 0 1 0 1.9 0a0.95 0.95 0 1 0 -1.9 0M709.45 383.30a0.95 0.95 0 1 0 1.9 0a0.95 0.95 0 1 0 -1.9 0M723.25 381.50a0.95 0.95 0 1 0 1.9 0a0.95 0.95 0 1 0 -1.9 0M726.35 380.00a0.95 0.95 0 1 0 1.9 0a0.95 0.95 0 1 0 -1.9 0M734.75 380.00a0.95 0.95 0 1 0 1.9 0a0.95 0.95 0 1 0 -1.9 0" fill="#1c24c0"/>
<path d="M736.50 361.48a0.95 0.95 0 1 0 1.9 0a0.95 0.95 0 1 0 -1.9 0M734.02 360.38a0.95 0.95 0 1 0 1.9 0a0.95 0.95 0 1 0 -1.9 0M736.48 361.14a0.95 0.95 0 1 0 1.9 0a0.95 0.95 0 1 0 -1.9 0M730.78 360.70a0.95 0.95 0 1 0 1.9 0a0.95 0.95 0 1 0 -1.9 0M731.07 368.13a0.95 0.95 0 1 0 1.9 0a0.95 0.95 0 1 0 -1.9 0M728.33 356.34a0.95 0.95 0 1 0 1.9 0a0.95 0.95 0 1 0 -1.9 0M740.42 354.27a0.95 0.95 0 1 0 1.9 0a0.95 0.95 0 1 0 -1.9 0M731.47 356.45a0.95 0.95 0 1 0 1.9 0a0.95 0.95 0 1 0 -1.9 0M737.29 355.16a0.95 0.95 0 1 0 1.9 0a0.95 0.95 0 1 0 -1.9 0M729.91 363.49a0.95 0.95 0 1 0 1.9 0a0.95 0.95 0 1 0 -1.9 0M732.59 363.78a0.95 0.95 0 1 0 1.9 0a0.95 0.95 0 1 0 -1.9 0M726.53 356.65a0.95 0.95 0 1 0 1.9 0a0.95 0.95 0 1 0 -1.9 0M730.79 354.94a0.95 0.95 0 1 0 1.9 0a0.95 0.95 0 1 0 -1.9 0M735.30 359.08a0.95 0.95 0 1 0 1.9 0a0.95 0.95 0 1 0 -1.9 0M727.92 366.06a0.95 0.95 0 1 0 1.9 0a0.95 0.95 0 1 0 -1.9 0M735.59 349.22a0.95 0.95 0 1 0 1.9 0a0.95 0.95 0 1 0 -1.9 0M733.16 362.61a0.95 0.95 0 1 0 1.9 0a0.95 0.95 0 1 0 -1.9 0M728.60 356.20a0.95 0.95 0 1 0 1.9 0a0.95 0.95 0 1 0 -1.9 0M730.39 364.66a0.95 0.95 0 1 0 1.9 0a0.95 0.95 0 1 0 -1.9 0M730.54 356.19a0.95 0.95 0 1 0 1.9 0a0.95 0.95 0 1 0 -1.9 0M731.89 359.36a0.95 0.95 0 1 0 1.9 0a0.95 0.95 0 1 0 -1.9 0M730.28 354.47a0.95 0.95 0 1 0 1.9 0a0.95 0.95 0 1 0 -1.9 0M729.32 356.59a0.95 0.95 0 1 0 1.9 0a0.95 0.95 0 1 0 -1.9 0M731.04 366.04a0.95 0.95 0 1 0 1.9 0a0.95 0.95 0 1 0 -1.9 0M728.66 363.78a0.95 0.95 0 1 0 1.9 0a0.95 0.95 0 1 0 -1.9 0M727.79 358.89a0.95 0.95 0 1 0 1.9 0a0.95 0.95 0 1 0 -1.9 0M731.89 357.02a0.95 0.95 0 1 0 1.9 0a0.95 0.95 0 1 0 -1.9 0M734.96 352.92a0.95 0.95 0 1 0 1.9 0a0.95 0.95 0 1 0 -1.9 0M727.00 358.93a0.95 0.95 0 1 0 1.9 0a0.95 0.95 0 1 0 -1.9 0M732.06 360.38a0.95 0.95 0 1 0 1.9 0a0.95 0.95 0 1 0 -1.9 0M729.91 360.16a0.95 0.95 0 1 0 1.9 0a0.95 0.95 0 1 0 -1.9 0M728.83 360.12a0.95 0.95 0 1 0 1.9 0a0.95 0.95 0 1 0 -1.9 0M734.87 356.01a0.95 0.95 0 1 0 1.9 0a0.95 0.95 0 1 0 -1.9 0M730.34 360.23a0.95 0.95 0 1 0 1.9 0a0.95 0.95 0 1 0 -1.9 0M736.99 360.35a0.95 0.95 0 1 0 1.9 0a0.95 0.95 0 1 0 -1.9 0M729.48 365.66a0.95 0.95 0 1 0 1.9 0a0.95 0.95 0 1 0 -1.9 0M733.33 367.97a0.95 0.95 0 1 0 1.9 0a0.95 0.95 0 1 0 -1.9 0M731.30 359.95a0.95 0.95 0 1 0 1.9 0a0.95 0.95 0 1 0 -1.9 0M729.56 357.43a0.95 0.95 0 1 0 1.9 0a0.95 0.95 0 1 0 -1.9 0M733.99 360.24a0.95 0.95 0 1 0 1.9 0a0.95 0.95 0 1 0 -1.9 0M731.54 358.07a0.95 0.95 0 1 0 1.9 0a0.95 0.95 0 1 0 -1.9 0M734.04 357.53a0.95 0.95 0 1 0 1.9 0a0.95 0.95 0 1 0 -1.9 0M731.89 360.27a0.95 0.95 0 1 0 1.9 0a0.95 0.95 0 1 0 -1.9 0M728.47 356.33a0.95 0.95 0 1 0 1.9 0a0.95 0.95 0 1 0 -1.9 0M731.71 362.92a0.95 0.95 0 1 0 1.9 0a0.95 0.95 0 1 0 -1.9 0M732.22 360.08a0.95 0.95 0 1 0 1.9 0a0.95 0.95 0 1 0 -1.9 0M735.21 361.50a0.95 0.95 0 1 0 1.9 0a0.95 0.95 0 1 0 -1.9 0M729.06 359.77a0.95 0.95 0 1 0 1.9 0a0.95 0.95 0 1 0 -1.9 0M731.92 357.59a0.95 0.95 0 1 0 1.9 0a0.95 0.95 0 1 0 -1.9 0M726.37 356.71a0.95 0.95 0 1 0 1.9 0a0.95 0.95 0 1 0 -1.9 0M734.20 359.55a0.95 0.95 0 1 0 1.9 0a0.95 0.95 0 1 0 -1.9 0M728.48 358.30a0.95 0.95 0 1 0 1.9 0a0.95 0.95 0 1 0 -1.9 0M726.09 361.44a0.95 0.95 0 1 0 1.9 0a0.95 0.95 0 1 0 -1.9 0M731.85 360.48a0.95 0.95 0 1 0 1.9 0a0.95 0.95 0 1 0 -1.9 0M735.70 355.05a0.95 0.95 0 1 0 1.9 0a0.95 0.95 0 1 0 -1.9 0M727.02 360.77a0.95 0.95 0 1 0 1.9 0a0.95 0.95 0 1 0 -1.9 0M728.46 355.13a0.95 0.95 0 1 0 1.9 0a0.95 0.95 0 1 0 -1.9 0M729.60 358.03a0.95 0.95 0 1 0 1.9 0a0.95 0.95 0 1 0 -1.9 0M728.32 359.32a0.95 0.95 0 1 0 1.9 0a0.95 0.95 0 1 0 -1.9 0M733.30 352.20a0.95 0.95 0 1 0 1.9 0a0.95 0.95 0 1 0 -1.9 0M729.39 360.87a0.95 0.95 0 1 0 1.9 0a0.95 0.95 0 1 0 -1.9 0M729.67 361.10a0.95 0.95 0 1 0 1.9 0a0.95 0.95 0 1 0 -1.9 0M733.97 359.87a0.95 0.95 0 1 0 1.9 0a0.95 0.95 0 1 0 -1.9 0M729.56 358.80a0.95 0.95 0 1 0 1.9 0a0.95 0.95 0 1 0 -1.9 0M733.48 359.01a0.95 0.95 0 1 0 1.9 0a0.95 0.95 0 1 0 -1.9 0M728.84 356.59a0.95 0.95 0 1 0 1.9 0a0.95 0.95 0 1 0 -1.9 0M728.05 359.42a0.95 0.95 0 1 0 1.9 0a0.95 0.95 0 1 0 -1.9 0M725.99 358.29a0.95 0.95 0 1 0 1.9 0a0.95 0.95 0 1 0 -1.9 0M738.19 360.87a0.95 0.95 0 1 0 1.9 0a0.95 0.95 0 1 0 -1.9 0M730.99 355.68a0.95 0.95 0 1 0 1.9 0a0.95 0.95 0 1 0 -1.9 0M738.35 374.40a0.95 0.95 0 1 0 1.9 0a0.95 0.95 0 1 0 -1.9 0M739.35 349.60a0.95 0.95 0 1 0 1.9 0a0.95 0.95 0 1 0 -1.9 0M727.05 352.00a0.95 0.95 0 1 0 1.9 0a0.95 0.95 0 1 0 -1.9 0M738.05 352.00a0.95 0.95 0 1 0 1.9 0a0.95 0.95 0 1 0 -1.9 0M741.05 362.00a0.95 0.95 0 1 0 1.9 0a0.95 0.95 0 1 0 -1.9 0M724.05 364.00a0.95 0.95 0 1 0 1.9 0a0.95 0.95 0 1 0 -1.9 0M729.05 372.00a0.95 0.95 0 1 0 1.9 0a0.95 0.95 0 1 0 -1.9 0M735.05 370.00a0.95 0.95 0 1 0 1.9 0a0.95 0.95 0 1 0 -1.9 0M730.05 350.00a0.95 0.95 0 1 0 1.9 0a0.95 0.95 0 1 0 -1.9 0M743.05 358.00a0.95 0.95 0 1 0 1.9 0a0.95 0.95 0 1 0 -1.9 0M721.05 358.00a0.95 0.95 0 1 0 1.9 0a0.95 0.95 0 1 0 -1.9 0" fill="#1c2ae0"/>
<circle cx="464" cy="391" r="0.55" fill="#d04040"/>
<circle cx="534.5" cy="388.2" r="0.55" fill="#7a3a7a"/>
<text x="463.5" y="499.2" class="cnt" fill="#dc5460" text-anchor="middle">0</text>
<text x="534.4" y="499.2" class="cnt" fill="#8c4a8c" text-anchor="middle">4</text>
<text x="732.5" y="499.2" class="cnt" fill="#5252cc" text-anchor="middle">89</text>
<path d="M415.5 538.5H778" stroke="#e8e8e8" stroke-width="1"/>
<path d="M415.5 542.5H778" stroke="#f6f6f6" stroke-width="1"/>
</svg>
</body></html>
